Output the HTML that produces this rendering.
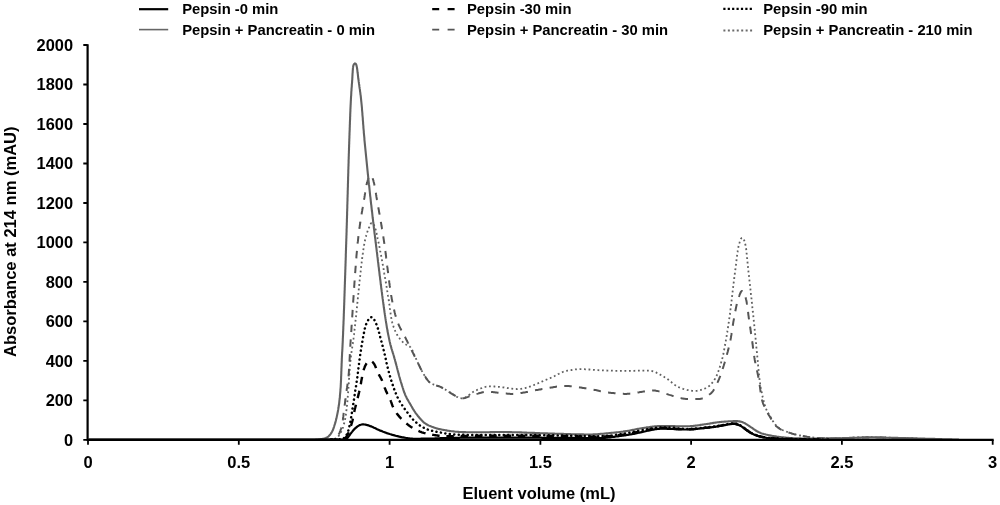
<!DOCTYPE html>
<html><head><meta charset="utf-8"><title>Chromatogram</title>
<style>html,body{margin:0;padding:0;background:#fff}body{width:1000px;height:505px;overflow:hidden}</style></head>
<body>
<svg width="1000" height="505" viewBox="0 0 1000 505" style="display:block;font-family:'Liberation Sans',Arial,sans-serif;font-weight:bold">
<rect width="1000" height="505" fill="#fff"/>
<path d="M325.6,439.7 L326.3,439.7 L327.1,439.6 L328.0,439.6 L329.0,439.5 L330.0,439.5 L331.0,439.4 L332.0,439.2 L333.0,439.1 L333.9,438.9 L334.9,438.7 L335.8,438.4 L336.7,438.0 L337.4,437.4 L338.1,436.7 L338.7,435.9 L339.3,435.1 L339.8,434.2 L340.3,433.3 L340.7,432.5 L341.2,431.6 L341.6,430.7 L342.0,429.8 L342.4,428.8 L342.8,427.9 L343.1,427.0 L343.4,426.0 L343.7,425.0 L344.0,424.1 L344.2,423.1 L344.5,422.2 L344.7,421.2 L344.9,420.2 L345.1,419.2 L345.3,418.2 L345.5,417.3 L345.6,416.3 L345.8,415.3 L345.9,414.3 L346.1,413.3 L346.2,412.3 L346.3,411.3 L346.4,410.3 L346.5,409.3 L346.6,408.3 L346.7,407.3 L346.9,406.3 L347.0,405.4 L347.1,404.4 L347.2,403.4 L347.3,402.4 L347.4,401.4 L347.5,400.4 L347.6,399.4 L347.6,398.4 L347.7,397.4 L347.8,396.4 L347.9,395.4 L348.0,394.4 L348.0,393.4 L348.1,392.4 L348.2,391.4 L348.3,390.4 L348.3,389.4 L348.4,388.4 L348.5,387.4 L348.5,386.4 L348.6,385.4 L348.7,384.4 L348.8,383.4 L348.8,382.4 L348.9,381.4 L349.0,380.4 L349.0,379.4 L349.1,378.4 L349.2,377.4 L349.3,376.4 L349.3,375.4 L349.4,374.4 L349.5,373.5 L349.5,372.5 L349.6,371.5 L349.7,370.5 L349.7,369.5 L349.8,368.5 L349.9,367.5 L350.0,366.5 L350.0,365.5 L350.1,364.5 L350.2,363.5 L350.3,362.5 L350.4,361.5 L350.5,360.5 L350.6,359.5 L350.7,358.5 L350.8,357.5 L350.9,356.5 L351.0,355.5 L351.1,354.5 L351.3,353.5 L351.4,352.5 L351.6,351.6 L351.7,350.6 L351.9,349.6 L352.0,348.6 L352.2,347.6 L352.3,346.6 L352.5,345.6 L352.6,344.6 L352.8,343.7 L352.9,342.7 L353.1,341.7 L353.2,340.7 L353.3,339.7 L353.5,338.7 L353.6,337.7 L353.7,336.7 L353.8,335.7 L354.0,334.7 L354.1,333.7 L354.2,332.7 L354.3,331.8 L354.4,330.8 L354.5,329.8 L354.7,328.8 L354.8,327.8 L354.9,326.8 L355.0,325.8 L355.1,324.8 L355.2,323.8 L355.3,322.8 L355.4,321.8 L355.5,320.8 L355.6,319.8 L355.8,318.8 L355.9,317.8 L356.0,316.8 L356.1,315.8 L356.2,314.9 L356.3,313.9 L356.4,312.9 L356.5,311.9 L356.6,310.9 L356.7,309.9 L356.8,308.9 L356.9,307.9 L357.0,306.9 L357.1,305.9 L357.2,304.9 L357.3,303.9 L357.4,302.9 L357.5,301.9 L357.6,300.9 L357.7,299.9 L357.8,298.9 L357.9,297.9 L358.0,296.9 L358.1,296.0 L358.2,295.0 L358.3,294.0 L358.4,293.0 L358.5,292.0 L358.6,291.0 L358.7,290.0 L358.8,289.0 L358.9,288.0 L359.0,287.0 L359.1,286.0 L359.2,285.0 L359.3,284.0 L359.4,283.0 L359.5,282.0 L359.6,281.0 L359.7,280.0 L359.8,279.0 L359.9,278.0 L360.0,277.1 L360.2,276.1 L360.3,275.1 L360.4,274.1 L360.5,273.1 L360.6,272.1 L360.7,271.1 L360.8,270.1 L360.9,269.1 L361.0,268.1 L361.1,267.1 L361.2,266.1 L361.4,265.1 L361.5,264.1 L361.6,263.1 L361.7,262.1 L361.8,261.2 L362.0,260.2 L362.1,259.2 L362.2,258.2 L362.3,257.2 L362.5,256.2 L362.6,255.2 L362.7,254.2 L362.9,253.2 L363.0,252.2 L363.1,251.2 L363.3,250.2 L363.4,249.3 L363.6,248.3 L363.7,247.3 L363.9,246.3 L364.1,245.3 L364.2,244.3 L364.4,243.3 L364.6,242.4 L364.8,241.4 L365.0,240.4 L365.2,239.4 L365.5,238.5 L365.7,237.5 L366.0,236.5 L366.2,235.6 L366.5,234.6 L366.8,233.6 L367.1,232.7 L367.4,231.7 L367.7,230.8 L368.1,229.8 L368.4,228.9 L368.8,228.0 L369.2,227.1 L369.6,226.1 L369.9,225.2 L370.4,224.3 L370.8,223.6 L371.4,223.0 L372.0,222.9 L372.6,223.1 L373.2,223.7 L373.7,224.4 L374.1,225.3 L374.5,226.2 L374.8,227.2 L375.2,228.1 L375.5,229.1 L375.8,230.0 L376.0,231.0 L376.3,232.0 L376.5,232.9 L376.7,233.9 L376.9,234.9 L377.1,235.9 L377.3,236.8 L377.5,237.8 L377.7,238.8 L378.0,239.8 L378.2,240.8 L378.4,241.7 L378.6,242.7 L378.8,243.7 L379.0,244.7 L379.2,245.6 L379.4,246.6 L379.6,247.6 L379.8,248.6 L380.0,249.6 L380.1,250.6 L380.3,251.5 L380.5,252.5 L380.7,253.5 L380.9,254.5 L381.1,255.5 L381.3,256.4 L381.5,257.4 L381.6,258.4 L381.8,259.4 L382.0,260.4 L382.2,261.4 L382.3,262.3 L382.5,263.3 L382.7,264.3 L382.9,265.3 L383.0,266.3 L383.2,267.3 L383.4,268.3 L383.6,269.2 L383.7,270.2 L383.9,271.2 L384.1,272.2 L384.2,273.2 L384.4,274.2 L384.6,275.2 L384.8,276.1 L384.9,277.1 L385.1,278.1 L385.3,279.1 L385.4,280.1 L385.6,281.1 L385.8,282.1 L385.9,283.0 L386.1,284.0 L386.2,285.0 L386.4,286.0 L386.6,287.0 L386.7,288.0 L386.9,289.0 L387.1,289.9 L387.2,290.9 L387.4,291.9 L387.5,292.9 L387.7,293.9 L387.9,294.9 L388.0,295.9 L388.2,296.9 L388.3,297.8 L388.5,298.8 L388.7,299.8 L388.8,300.8 L389.0,301.8 L389.1,302.8 L389.3,303.8 L389.4,304.8 L389.5,305.8 L389.7,306.7 L389.8,307.7 L389.9,308.7 L390.1,309.7 L390.2,310.7 L390.3,311.7 L390.5,312.7 L390.6,313.7 L390.7,314.7 L390.9,315.7 L391.0,316.7 L391.2,317.6 L391.4,318.6 L391.5,319.6 L391.7,320.6 L392.0,321.6 L392.2,322.5 L392.5,323.5 L392.8,324.4 L393.1,325.4 L393.4,326.3 L393.7,327.3 L394.1,328.2 L394.4,329.2 L394.8,330.1 L395.2,331.0 L395.6,331.9 L396.1,332.8 L396.5,333.7 L397.0,334.6 L397.5,335.4 L398.0,336.3 L398.6,337.1 L399.2,337.9 L399.8,338.7 L400.4,339.5 L401.1,340.3 L401.7,341.0 L402.4,341.7 L403.1,342.4 L403.9,343.1 L404.7,343.7 L405.5,344.2 L406.4,344.7 L407.3,345.1 L408.1,345.6 L409.0,346.0 L409.8,346.6 L410.5,347.3 L411.1,348.1 L411.6,348.9 L412.1,349.8 L412.5,350.7 L412.9,351.6 L413.3,352.5 L413.7,353.4 L414.1,354.3 L414.5,355.3 L414.9,356.2 L415.3,357.1 L415.7,358.0 L416.1,358.9 L416.5,359.9 L416.9,360.8 L417.3,361.7 L417.8,362.6 L418.2,363.5 L418.6,364.4 L419.1,365.3 L419.5,366.2 L419.9,367.1 L420.4,368.0 L420.8,368.9 L421.3,369.8 L421.7,370.6 L422.2,371.5 L422.7,372.4 L423.2,373.3 L423.7,374.1 L424.2,375.0 L424.7,375.8 L425.3,376.7 L425.8,377.5 L426.3,378.4 L426.9,379.2 L427.5,380.0 L428.1,380.8 L428.8,381.5 L429.5,382.2 L430.3,382.8 L431.1,383.3 L432.0,383.8 L432.9,384.2 L433.8,384.6 L434.8,384.9 L435.7,385.2 L436.7,385.5 L437.6,385.8 L438.6,386.2 L439.5,386.5 L440.4,386.9 L441.3,387.3 L442.2,387.8 L443.1,388.3 L444.0,388.8 L444.8,389.3 L445.7,389.8 L446.5,390.4 L447.3,390.9 L448.2,391.4 L449.0,392.0 L449.9,392.5 L450.7,393.0 L451.6,393.5 L452.4,394.0 L453.3,394.6 L454.2,395.1 L455.0,395.6 L455.8,396.1 L456.7,396.7 L457.6,397.1 L458.5,397.6 L459.4,397.9 L460.3,398.2 L461.3,398.3 L462.3,398.3 L463.2,398.1 L464.2,397.8 L465.1,397.5 L466.0,397.0 L466.8,396.5 L467.7,395.9 L468.5,395.4 L469.3,394.8 L470.1,394.2 L470.9,393.6 L471.7,393.0 L472.5,392.4 L473.3,391.8 L474.2,391.3 L475.1,390.9 L476.0,390.4 L476.9,390.0 L477.8,389.6 L478.7,389.3 L479.7,388.9 L480.6,388.5 L481.5,388.2 L482.5,387.8 L483.4,387.5 L484.4,387.2 L485.3,387.0 L486.3,386.7 L487.3,386.6 L488.3,386.4 L489.3,386.4 L490.3,386.3 L491.3,386.4 L492.3,386.4 L493.3,386.4 L494.3,386.5 L495.2,386.6 L496.2,386.7 L497.2,386.8 L498.2,386.8 L499.2,386.9 L500.2,387.0 L501.2,387.1 L502.2,387.3 L503.2,387.4 L504.2,387.5 L505.2,387.7 L506.2,387.8 L507.2,388.0 L508.1,388.1 L509.1,388.3 L510.1,388.4 L511.1,388.6 L512.1,388.7 L513.1,388.8 L514.1,388.9 L515.1,389.0 L516.1,389.0 L517.1,389.1 L518.1,389.0 L519.1,389.0 L520.1,388.9 L521.1,388.8 L522.1,388.7 L523.0,388.5 L524.0,388.3 L525.0,388.1 L526.0,387.8 L526.9,387.6 L527.9,387.3 L528.8,387.0 L529.8,386.6 L530.7,386.3 L531.7,386.0 L532.6,385.6 L533.5,385.2 L534.4,384.8 L535.4,384.5 L536.3,384.1 L537.2,383.7 L538.1,383.3 L539.0,382.9 L540.0,382.5 L540.9,382.0 L541.8,381.6 L542.7,381.2 L543.6,380.8 L544.5,380.4 L545.4,380.0 L546.4,379.7 L547.3,379.3 L548.2,378.9 L549.1,378.5 L550.1,378.1 L551.0,377.7 L551.9,377.3 L552.8,376.9 L553.7,376.4 L554.6,376.0 L555.5,375.5 L556.4,375.1 L557.2,374.6 L558.1,374.1 L559.0,373.7 L559.9,373.2 L560.8,372.8 L561.7,372.4 L562.7,372.0 L563.6,371.7 L564.5,371.4 L565.5,371.1 L566.5,370.9 L567.4,370.6 L568.4,370.5 L569.4,370.3 L570.4,370.1 L571.4,370.0 L572.4,369.8 L573.4,369.7 L574.4,369.6 L575.3,369.4 L576.3,369.3 L577.3,369.3 L578.3,369.2 L579.3,369.2 L580.3,369.1 L581.3,369.1 L582.3,369.1 L583.3,369.2 L584.3,369.2 L585.3,369.3 L586.3,369.3 L587.3,369.4 L588.3,369.5 L589.3,369.5 L590.3,369.6 L591.3,369.7 L592.3,369.8 L593.3,369.9 L594.3,369.9 L595.3,370.0 L596.3,370.1 L597.3,370.2 L598.3,370.2 L599.3,370.3 L600.3,370.3 L601.3,370.3 L602.3,370.4 L603.3,370.4 L604.3,370.5 L605.3,370.5 L606.3,370.5 L607.3,370.6 L608.3,370.6 L609.3,370.6 L610.3,370.6 L611.3,370.7 L612.3,370.7 L613.3,370.7 L614.3,370.7 L615.3,370.8 L616.3,370.8 L617.3,370.8 L618.3,370.8 L619.3,370.8 L620.3,370.8 L621.3,370.8 L622.3,370.8 L623.3,370.8 L624.3,370.8 L625.3,370.8 L626.3,370.8 L627.3,370.8 L628.3,370.8 L629.3,370.8 L630.3,370.8 L631.3,370.8 L632.3,370.8 L633.3,370.8 L634.3,370.8 L635.3,370.7 L636.3,370.7 L637.3,370.7 L638.3,370.7 L639.3,370.7 L640.3,370.7 L641.3,370.7 L642.3,370.7 L643.3,370.7 L644.3,370.7 L645.3,370.7 L646.3,370.7 L647.3,370.7 L648.3,370.7 L649.3,370.7 L650.3,370.8 L651.3,370.9 L652.2,371.1 L653.2,371.4 L654.1,371.7 L655.1,372.0 L656.0,372.4 L656.9,372.9 L657.8,373.3 L658.7,373.8 L659.5,374.3 L660.4,374.8 L661.3,375.3 L662.1,375.8 L663.0,376.3 L663.9,376.8 L664.7,377.3 L665.6,377.8 L666.4,378.3 L667.3,378.9 L668.1,379.5 L668.9,380.1 L669.6,380.7 L670.4,381.4 L671.2,382.0 L671.9,382.6 L672.7,383.3 L673.5,383.9 L674.3,384.5 L675.1,385.1 L675.9,385.7 L676.7,386.2 L677.6,386.7 L678.5,387.1 L679.4,387.5 L680.4,387.9 L681.3,388.2 L682.3,388.5 L683.2,388.8 L684.2,389.1 L685.1,389.4 L686.1,389.6 L687.1,389.9 L688.0,390.1 L689.0,390.3 L690.0,390.5 L691.0,390.7 L692.0,390.8 L693.0,390.9 L694.0,390.9 L695.0,390.9 L696.0,390.9 L696.9,390.8 L697.9,390.7 L698.9,390.5 L699.9,390.2 L700.8,390.0 L701.8,389.7 L702.7,389.3 L703.7,389.0 L704.6,388.6 L705.5,388.2 L706.4,387.7 L707.3,387.3 L708.1,386.7 L708.9,386.2 L709.7,385.5 L710.4,384.8 L711.1,384.1 L711.7,383.4 L712.4,382.6 L713.0,381.8 L713.6,381.0 L714.1,380.2 L714.7,379.3 L715.2,378.5 L715.7,377.6 L716.1,376.7 L716.6,375.8 L717.0,374.9 L717.4,374.0 L717.7,373.0 L718.1,372.1 L718.4,371.2 L718.8,370.2 L719.1,369.3 L719.4,368.3 L719.7,367.4 L720.0,366.4 L720.3,365.5 L720.6,364.5 L720.9,363.6 L721.1,362.6 L721.4,361.6 L721.7,360.7 L722.0,359.7 L722.2,358.7 L722.5,357.8 L722.7,356.8 L722.9,355.8 L723.1,354.8 L723.4,353.9 L723.6,352.9 L723.8,351.9 L723.9,350.9 L724.1,350.0 L724.3,349.0 L724.5,348.0 L724.7,347.0 L724.9,346.0 L725.1,345.0 L725.2,344.1 L725.4,343.1 L725.6,342.1 L725.8,341.1 L725.9,340.1 L726.1,339.1 L726.3,338.1 L726.5,337.2 L726.6,336.2 L726.8,335.2 L727.0,334.2 L727.1,333.2 L727.3,332.2 L727.4,331.2 L727.6,330.2 L727.7,329.3 L727.9,328.3 L728.0,327.3 L728.2,326.3 L728.3,325.3 L728.5,324.3 L728.6,323.3 L728.8,322.3 L728.9,321.3 L729.0,320.4 L729.2,319.4 L729.3,318.4 L729.5,317.4 L729.6,316.4 L729.7,315.4 L729.9,314.4 L730.0,313.4 L730.1,312.4 L730.2,311.4 L730.4,310.4 L730.5,309.5 L730.6,308.5 L730.7,307.5 L730.9,306.5 L731.0,305.5 L731.1,304.5 L731.2,303.5 L731.4,302.5 L731.5,301.5 L731.6,300.5 L731.7,299.5 L731.8,298.5 L731.9,297.5 L732.1,296.5 L732.2,295.6 L732.3,294.6 L732.4,293.6 L732.5,292.6 L732.6,291.6 L732.8,290.6 L732.9,289.6 L733.0,288.6 L733.1,287.6 L733.2,286.6 L733.4,285.6 L733.5,284.6 L733.6,283.6 L733.7,282.6 L733.8,281.7 L734.0,280.7 L734.1,279.7 L734.2,278.7 L734.3,277.7 L734.4,276.7 L734.6,275.7 L734.7,274.7 L734.8,273.7 L734.9,272.7 L735.1,271.7 L735.2,270.7 L735.3,269.7 L735.5,268.8 L735.6,267.8 L735.7,266.8 L735.8,265.8 L736.0,264.8 L736.1,263.8 L736.2,262.8 L736.3,261.8 L736.4,260.8 L736.6,259.8 L736.7,258.8 L736.8,257.8 L736.9,256.8 L737.0,255.9 L737.2,254.9 L737.3,253.9 L737.4,252.9 L737.6,251.9 L737.7,250.9 L737.9,249.9 L738.0,248.9 L738.2,247.9 L738.4,247.0 L738.6,246.0 L738.8,245.0 L739.1,244.0 L739.4,243.1 L739.7,242.1 L740.0,241.2 L740.3,240.2 L740.7,239.4 L741.1,238.6 L741.7,238.0 L742.3,237.9 L742.8,238.1 L743.4,238.7 L743.8,239.5 L744.2,240.4 L744.5,241.4 L744.8,242.3 L745.0,243.3 L745.3,244.3 L745.5,245.2 L745.7,246.2 L745.9,247.2 L746.0,248.2 L746.2,249.2 L746.3,250.2 L746.4,251.2 L746.5,252.2 L746.6,253.1 L746.7,254.1 L746.8,255.1 L746.9,256.1 L747.0,257.1 L747.1,258.1 L747.2,259.1 L747.3,260.1 L747.4,261.1 L747.5,262.1 L747.6,263.1 L747.7,264.1 L747.8,265.1 L747.9,266.1 L748.0,267.1 L748.1,268.1 L748.2,269.1 L748.3,270.1 L748.4,271.1 L748.5,272.1 L748.6,273.0 L748.7,274.0 L748.9,275.0 L749.0,276.0 L749.1,277.0 L749.2,278.0 L749.3,279.0 L749.4,280.0 L749.5,281.0 L749.6,282.0 L749.7,283.0 L749.8,284.0 L750.0,285.0 L750.1,286.0 L750.2,287.0 L750.3,288.0 L750.4,288.9 L750.5,289.9 L750.6,290.9 L750.7,291.9 L750.8,292.9 L750.9,293.9 L751.0,294.9 L751.1,295.9 L751.3,296.9 L751.4,297.9 L751.5,298.9 L751.6,299.9 L751.7,300.9 L751.8,301.9 L751.9,302.9 L752.0,303.9 L752.1,304.9 L752.2,305.9 L752.3,306.8 L752.4,307.8 L752.5,308.8 L752.6,309.8 L752.7,310.8 L752.8,311.8 L753.0,312.8 L753.1,313.8 L753.2,314.8 L753.3,315.8 L753.4,316.8 L753.5,317.8 L753.6,318.8 L753.7,319.8 L753.8,320.8 L753.9,321.8 L754.0,322.8 L754.1,323.8 L754.2,324.7 L754.3,325.7 L754.4,326.7 L754.5,327.7 L754.6,328.7 L754.7,329.7 L754.8,330.7 L754.9,331.7 L755.0,332.7 L755.1,333.7 L755.2,334.7 L755.3,335.7 L755.4,336.7 L755.5,337.7 L755.6,338.7 L755.7,339.7 L755.8,340.7 L755.9,341.7 L756.0,342.7 L756.1,343.7 L756.2,344.7 L756.2,345.6 L756.3,346.6 L756.4,347.6 L756.5,348.6 L756.6,349.6 L756.7,350.6 L756.8,351.6 L756.9,352.6 L757.0,353.6 L757.1,354.6 L757.2,355.6 L757.3,356.6 L757.4,357.6 L757.5,358.6 L757.6,359.6 L757.7,360.6 L757.8,361.6 L757.9,362.6 L758.0,363.6 L758.1,364.6 L758.1,365.6 L758.2,366.6 L758.3,367.5 L758.4,368.5 L758.5,369.5 L758.6,370.5 L758.7,371.5 L758.8,372.5 L758.9,373.5 L759.0,374.5 L759.1,375.5 L759.2,376.5 L759.3,377.5 L759.4,378.5 L759.5,379.5 L759.7,380.5 L759.8,381.5 L759.9,382.5 L760.1,383.4 L760.2,384.4 L760.4,385.4 L760.6,386.4 L760.7,387.4 L760.9,388.4 L761.1,389.4 L761.3,390.3 L761.5,391.3 L761.7,392.3 L761.9,393.3 L762.1,394.3 L762.3,395.2 L762.5,396.2 L762.7,397.2 L763.0,398.2 L763.2,399.1 L763.4,400.1 L763.7,401.1 L763.9,402.0 L764.2,403.0 L764.5,404.0 L764.8,404.9 L765.0,405.9 L765.4,406.8 L765.7,407.8 L766.0,408.7 L766.4,409.6 L766.8,410.6 L767.2,411.5 L767.7,412.3 L768.2,413.2 L768.7,414.1 L769.2,414.9 L769.7,415.8 L770.3,416.6 L770.8,417.5 L771.3,418.4 L771.8,419.2 L772.3,420.1 L772.8,421.0 L773.3,421.8 L773.8,422.7 L774.4,423.5 L775.0,424.3 L775.6,425.0 L776.3,425.7 L777.0,426.4 L777.8,427.1 L778.6,427.7 L779.4,428.3 L780.3,428.8 L781.1,429.3 L782.0,429.7 L782.9,430.2 L783.8,430.6 L784.7,431.0 L785.7,431.3 L786.6,431.7 L787.5,432.0 L788.5,432.3 L789.4,432.7 L790.4,433.0 L791.4,433.3 L792.3,433.5 L793.3,433.8 L794.2,434.1 L795.2,434.4 L796.2,434.6 L797.1,434.8 L798.1,435.1 L799.1,435.3 L800.1,435.5 L801.0,435.7 L802.0,435.9 L803.0,436.1 L804.0,436.3 L805.0,436.4 L806.0,436.6 L806.9,436.8 L807.9,436.9 L808.9,437.1 L809.9,437.2 L810.9,437.3 L811.9,437.4 L812.9,437.5 L813.9,437.6 L814.9,437.7 L815.9,437.8 L816.9,437.9 L817.9,437.9 L818.9,438.0 L819.9,438.1 L820.9,438.2 L821.9,438.2 L822.9,438.3 L823.9,438.3 L824.9,438.4 L825.9,438.4 L826.9,438.4 L827.9,438.5 L828.9,438.5 L829.9,438.5 L830.9,438.5 L831.9,438.5 L832.9,438.5 L833.9,438.5 L834.9,438.4 L835.9,438.4 L836.9,438.4 L837.9,438.4 L838.9,438.3 L839.9,438.3 L840.9,438.3 L841.9,438.2 L842.9,438.2 L843.9,438.1 L844.9,438.1 L845.9,438.0 L846.9,438.0 L847.9,438.0 L848.8,437.9 L849.8,437.9 L850.8,437.8 L851.8,437.8 L852.8,437.7 L853.8,437.7 L854.8,437.6 L855.8,437.6 L856.8,437.5 L857.8,437.5 L858.8,437.4 L859.8,437.4 L860.8,437.4 L861.8,437.3 L862.8,437.3 L863.8,437.3 L864.8,437.3 L865.8,437.2 L866.8,437.2 L867.8,437.2 L868.8,437.2 L869.8,437.2 L870.8,437.2 L871.8,437.2 L872.8,437.2 L873.8,437.2 L874.8,437.2 L875.8,437.3 L876.8,437.3 L877.8,437.3 L878.8,437.3 L879.8,437.3 L880.8,437.4 L881.8,437.4 L882.8,437.4 L883.8,437.4 L884.8,437.5 L885.8,437.5 L886.8,437.5 L887.8,437.6 L888.8,437.6 L889.8,437.6 L890.8,437.7 L891.8,437.7 L892.8,437.8 L893.8,437.8 L894.8,437.8 L895.8,437.9 L896.8,437.9 L897.8,437.9 L898.8,438.0 L899.8,438.0 L900.8,438.0 L901.8,438.1 L902.8,438.1 L903.8,438.1 L904.8,438.2 L905.8,438.2 L906.8,438.2 L907.8,438.3 L908.8,438.3 L909.8,438.3 L910.8,438.4 L911.8,438.4 L912.8,438.5 L913.8,438.5 L914.8,438.5 L915.8,438.6 L916.8,438.6 L917.8,438.7 L918.8,438.7 L919.8,438.7 L920.8,438.8 L921.8,438.8 L922.8,438.9 L923.8,438.9 L924.8,439.0 L925.8,439.0 L926.8,439.1 L927.8,439.1 L928.8,439.1 L929.8,439.2 L930.8,439.2 L931.8,439.3 L932.8,439.3 L933.8,439.4 L934.8,439.4 L935.8,439.5 L936.8,439.5 L937.7,439.6 L938.5,439.6 L939.2,439.7" fill="none" stroke="#606060" stroke-width="1.8" stroke-dasharray="1.8 2.7"/>
<path d="M325.6,439.7 L326.3,439.7 L327.1,439.6 L328.0,439.6 L329.0,439.5 L330.0,439.4 L331.0,439.3 L332.0,439.1 L332.9,438.9 L333.9,438.6 L334.7,438.2 L335.6,437.6 L336.4,437.0 L337.1,436.4 L337.8,435.6 L338.4,434.9 L338.9,434.0 L339.4,433.2 L339.8,432.2 L340.1,431.3 L340.5,430.4 L340.8,429.4 L341.1,428.5 L341.3,427.5 L341.6,426.5 L341.8,425.6 L342.1,424.6 L342.3,423.6 L342.4,422.6 L342.6,421.6 L342.7,420.7 L342.9,419.7 L343.0,418.7 L343.1,417.7 L343.3,416.7 L343.4,415.7 L343.5,414.7 L343.6,413.7 L343.7,412.7 L343.9,411.7 L344.0,410.7 L344.1,409.7 L344.2,408.7 L344.3,407.8 L344.5,406.8 L344.6,405.8 L344.7,404.8 L344.9,403.8 L345.0,402.8 L345.1,401.8 L345.2,400.8 L345.4,399.8 L345.5,398.8 L345.6,397.8 L345.8,396.8 L345.9,395.9 L346.0,394.9 L346.2,393.9 L346.3,392.9 L346.4,391.9 L346.6,390.9 L346.7,389.9 L346.8,388.9 L347.0,387.9 L347.1,386.9 L347.3,386.0 L347.4,385.0 L347.6,384.0 L347.8,383.0 L347.9,382.0 L348.1,381.0 L348.2,380.0 L348.3,379.0 L348.4,378.0 L348.5,377.0 L348.6,376.0 L348.6,375.0 L348.7,374.0 L348.8,373.0 L348.9,372.1 L348.9,371.1 L349.0,370.1 L349.0,369.1 L349.1,368.1 L349.2,367.1 L349.2,366.1 L349.3,365.1 L349.3,364.1 L349.4,363.1 L349.4,362.1 L349.5,361.1 L349.6,360.1 L349.6,359.1 L349.7,358.1 L349.7,357.1 L349.8,356.1 L349.8,355.1 L349.9,354.1 L349.9,353.1 L350.0,352.1 L350.0,351.1 L350.1,350.1 L350.2,349.1 L350.2,348.1 L350.3,347.1 L350.3,346.1 L350.4,345.1 L350.4,344.1 L350.5,343.1 L350.6,342.1 L350.6,341.1 L350.7,340.1 L350.8,339.1 L350.8,338.1 L350.9,337.1 L351.0,336.1 L351.0,335.1 L351.1,334.1 L351.2,333.1 L351.2,332.1 L351.3,331.1 L351.4,330.1 L351.4,329.1 L351.5,328.1 L351.5,327.1 L351.6,326.1 L351.7,325.1 L351.7,324.1 L351.8,323.1 L351.9,322.1 L351.9,321.1 L352.0,320.1 L352.1,319.1 L352.1,318.2 L352.2,317.2 L352.3,316.2 L352.3,315.2 L352.4,314.2 L352.5,313.2 L352.5,312.2 L352.6,311.2 L352.6,310.2 L352.7,309.2 L352.8,308.2 L352.8,307.2 L352.9,306.2 L353.0,305.2 L353.0,304.2 L353.1,303.2 L353.2,302.2 L353.2,301.2 L353.3,300.2 L353.4,299.2 L353.4,298.2 L353.5,297.2 L353.6,296.2 L353.6,295.2 L353.7,294.2 L353.8,293.2 L353.8,292.2 L353.9,291.2 L354.0,290.2 L354.0,289.2 L354.1,288.2 L354.2,287.2 L354.2,286.2 L354.3,285.2 L354.4,284.2 L354.4,283.2 L354.5,282.2 L354.6,281.2 L354.6,280.2 L354.7,279.2 L354.8,278.2 L354.9,277.2 L354.9,276.2 L355.0,275.2 L355.1,274.2 L355.1,273.3 L355.2,272.3 L355.3,271.3 L355.4,270.3 L355.4,269.3 L355.5,268.3 L355.6,267.3 L355.7,266.3 L355.7,265.3 L355.8,264.3 L355.9,263.3 L356.0,262.3 L356.0,261.3 L356.1,260.3 L356.2,259.3 L356.3,258.3 L356.4,257.3 L356.4,256.3 L356.5,255.3 L356.6,254.3 L356.7,253.3 L356.8,252.3 L356.9,251.3 L357.0,250.3 L357.1,249.3 L357.2,248.3 L357.2,247.3 L357.3,246.3 L357.4,245.3 L357.5,244.4 L357.6,243.4 L357.7,242.4 L357.9,241.4 L358.0,240.4 L358.1,239.4 L358.2,238.4 L358.3,237.4 L358.4,236.4 L358.5,235.4 L358.7,234.4 L358.8,233.4 L358.9,232.4 L359.0,231.4 L359.2,230.4 L359.3,229.5 L359.4,228.5 L359.6,227.5 L359.7,226.5 L359.8,225.5 L360.0,224.5 L360.1,223.5 L360.3,222.5 L360.4,221.5 L360.6,220.5 L360.7,219.6 L360.9,218.6 L361.0,217.6 L361.2,216.6 L361.4,215.6 L361.5,214.6 L361.7,213.6 L361.8,212.6 L362.0,211.7 L362.2,210.7 L362.3,209.7 L362.5,208.7 L362.7,207.7 L362.8,206.7 L363.0,205.7 L363.2,204.8 L363.4,203.8 L363.5,202.8 L363.7,201.8 L363.9,200.8 L364.0,199.8 L364.2,198.8 L364.4,197.9 L364.5,196.9 L364.7,195.9 L364.8,194.9 L365.0,193.9 L365.1,192.9 L365.3,191.9 L365.5,191.0 L365.6,190.0 L365.8,189.0 L366.0,188.0 L366.2,187.0 L366.3,186.0 L366.5,185.0 L366.7,184.1 L367.0,183.1 L367.2,182.1 L367.5,181.2 L367.8,180.2 L368.1,179.3 L368.4,178.3 L368.7,177.4 L369.1,176.5 L369.6,175.8 L370.2,175.4 L370.7,175.3 L371.3,175.7 L371.8,176.4 L372.2,177.2 L372.6,178.2 L372.9,179.1 L373.2,180.0 L373.5,181.0 L373.7,182.0 L374.0,182.9 L374.2,183.9 L374.4,184.9 L374.6,185.9 L374.8,186.9 L375.0,187.8 L375.1,188.8 L375.3,189.8 L375.5,190.8 L375.6,191.8 L375.8,192.8 L376.0,193.8 L376.1,194.7 L376.3,195.7 L376.4,196.7 L376.6,197.7 L376.8,198.7 L376.9,199.7 L377.1,200.7 L377.3,201.6 L377.5,202.6 L377.6,203.6 L377.8,204.6 L378.0,205.6 L378.2,206.6 L378.3,207.5 L378.5,208.5 L378.7,209.5 L378.9,210.5 L379.0,211.5 L379.2,212.5 L379.4,213.5 L379.6,214.4 L379.7,215.4 L379.9,216.4 L380.1,217.4 L380.2,218.4 L380.4,219.4 L380.6,220.4 L380.8,221.3 L380.9,222.3 L381.1,223.3 L381.3,224.3 L381.4,225.3 L381.6,226.3 L381.8,227.3 L381.9,228.2 L382.1,229.2 L382.2,230.2 L382.4,231.2 L382.6,232.2 L382.7,233.2 L382.9,234.2 L383.0,235.2 L383.2,236.1 L383.4,237.1 L383.5,238.1 L383.7,239.1 L383.8,240.1 L384.0,241.1 L384.1,242.1 L384.3,243.1 L384.4,244.0 L384.5,245.0 L384.7,246.0 L384.8,247.0 L384.9,248.0 L385.1,249.0 L385.2,250.0 L385.3,251.0 L385.5,252.0 L385.6,253.0 L385.7,254.0 L385.9,255.0 L386.0,255.9 L386.1,256.9 L386.2,257.9 L386.4,258.9 L386.5,259.9 L386.6,260.9 L386.7,261.9 L386.8,262.9 L387.0,263.9 L387.1,264.9 L387.2,265.9 L387.3,266.9 L387.5,267.9 L387.6,268.8 L387.7,269.8 L387.8,270.8 L387.9,271.8 L388.1,272.8 L388.2,273.8 L388.3,274.8 L388.4,275.8 L388.6,276.8 L388.7,277.8 L388.8,278.8 L389.0,279.8 L389.1,280.8 L389.2,281.7 L389.3,282.7 L389.5,283.7 L389.6,284.7 L389.7,285.7 L389.9,286.7 L390.0,287.7 L390.2,288.7 L390.3,289.7 L390.4,290.7 L390.6,291.6 L390.7,292.6 L390.9,293.6 L391.1,294.6 L391.2,295.6 L391.4,296.6 L391.6,297.6 L391.7,298.6 L391.9,299.5 L392.1,300.5 L392.3,301.5 L392.5,302.5 L392.7,303.5 L392.9,304.4 L393.1,305.4 L393.3,306.4 L393.5,307.4 L393.7,308.3 L394.0,309.3 L394.2,310.3 L394.4,311.3 L394.6,312.2 L394.9,313.2 L395.1,314.2 L395.4,315.2 L395.6,316.1 L395.9,317.1 L396.2,318.0 L396.5,319.0 L396.8,320.0 L397.1,320.9 L397.4,321.8 L397.8,322.8 L398.2,323.7 L398.6,324.6 L399.0,325.5 L399.4,326.4 L399.9,327.3 L400.3,328.2 L400.8,329.1 L401.3,330.0 L401.8,330.8 L402.3,331.7 L402.8,332.6 L403.2,333.5 L403.7,334.3 L404.2,335.2 L404.6,336.1 L405.1,337.0 L405.5,337.9 L405.9,338.8 L406.4,339.7 L406.8,340.6 L407.3,341.5 L407.7,342.4 L408.2,343.3 L408.6,344.2 L409.0,345.1 L409.5,346.0 L409.9,346.9 L410.4,347.8 L410.8,348.7 L411.3,349.6 L411.7,350.5 L412.2,351.3 L412.6,352.2 L413.1,353.1 L413.5,354.0 L414.0,354.9 L414.4,355.8 L414.8,356.7 L415.3,357.6 L415.7,358.5 L416.2,359.4 L416.6,360.3 L417.1,361.2 L417.5,362.1 L418.0,363.0 L418.4,363.9 L418.8,364.8 L419.3,365.7 L419.7,366.6 L420.1,367.5 L420.6,368.4 L421.0,369.3 L421.5,370.2 L421.9,371.1 L422.4,371.9 L422.9,372.8 L423.4,373.7 L423.9,374.5 L424.5,375.4 L425.0,376.2 L425.5,377.1 L426.0,377.9 L426.6,378.8 L427.2,379.6 L427.8,380.4 L428.4,381.1 L429.1,381.8 L429.9,382.5 L430.7,383.0 L431.5,383.5 L432.4,384.0 L433.3,384.4 L434.3,384.7 L435.2,385.0 L436.2,385.4 L437.1,385.7 L438.1,386.0 L439.0,386.3 L439.9,386.7 L440.8,387.1 L441.7,387.5 L442.6,388.0 L443.5,388.5 L444.4,389.0 L445.2,389.5 L446.0,390.1 L446.9,390.6 L447.7,391.1 L448.6,391.7 L449.4,392.2 L450.3,392.7 L451.1,393.3 L452.0,393.8 L452.8,394.3 L453.7,394.8 L454.5,395.3 L455.4,395.9 L456.2,396.4 L457.1,396.9 L458.0,397.3 L458.9,397.7 L459.8,398.0 L460.8,398.3 L461.8,398.3 L462.8,398.3 L463.7,398.2 L464.7,398.0 L465.7,397.7 L466.6,397.4 L467.6,397.1 L468.5,396.7 L469.4,396.3 L470.3,396.0 L471.3,395.6 L472.2,395.3 L473.2,395.0 L474.1,394.7 L475.1,394.4 L476.1,394.1 L477.0,393.9 L478.0,393.6 L478.9,393.3 L479.9,393.0 L480.9,392.8 L481.8,392.5 L482.8,392.3 L483.8,392.1 L484.8,392.0 L485.8,391.9 L486.8,391.8 L487.8,391.8 L488.8,391.8 L489.8,391.8 L490.8,391.9 L491.7,392.0 L492.7,392.1 L493.7,392.2 L494.7,392.3 L495.7,392.5 L496.7,392.6 L497.7,392.7 L498.7,392.8 L499.7,393.0 L500.7,393.1 L501.7,393.2 L502.7,393.3 L503.7,393.4 L504.7,393.5 L505.7,393.6 L506.6,393.6 L507.6,393.7 L508.6,393.8 L509.6,393.8 L510.6,393.9 L511.6,393.9 L512.6,393.9 L513.6,393.8 L514.6,393.8 L515.6,393.7 L516.6,393.6 L517.6,393.5 L518.6,393.4 L519.6,393.3 L520.6,393.1 L521.6,393.0 L522.6,392.8 L523.6,392.6 L524.5,392.4 L525.5,392.3 L526.5,392.1 L527.5,391.9 L528.5,391.7 L529.4,391.5 L530.4,391.3 L531.4,391.1 L532.4,390.9 L533.4,390.7 L534.3,390.5 L535.3,390.3 L536.3,390.1 L537.3,389.9 L538.3,389.8 L539.3,389.6 L540.3,389.5 L541.2,389.3 L542.2,389.1 L543.2,389.0 L544.2,388.8 L545.2,388.6 L546.2,388.4 L547.2,388.3 L548.1,388.1 L549.1,387.9 L550.1,387.7 L551.1,387.5 L552.1,387.4 L553.1,387.2 L554.0,387.0 L555.0,386.9 L556.0,386.7 L557.0,386.6 L558.0,386.5 L559.0,386.4 L560.0,386.3 L561.0,386.2 L562.0,386.1 L563.0,386.1 L564.0,386.0 L565.0,386.0 L566.0,386.0 L567.0,386.1 L568.0,386.1 L569.0,386.1 L570.0,386.2 L571.0,386.3 L572.0,386.4 L573.0,386.5 L574.0,386.6 L575.0,386.7 L575.9,386.8 L576.9,387.0 L577.9,387.1 L578.9,387.2 L579.9,387.4 L580.9,387.5 L581.9,387.7 L582.9,387.9 L583.9,388.0 L584.8,388.2 L585.8,388.3 L586.8,388.5 L587.8,388.7 L588.8,388.8 L589.8,389.0 L590.8,389.1 L591.7,389.3 L592.7,389.5 L593.7,389.7 L594.7,389.9 L595.7,390.1 L596.6,390.3 L597.6,390.5 L598.6,390.7 L599.6,391.0 L600.6,391.2 L601.5,391.4 L602.5,391.6 L603.5,391.8 L604.5,392.0 L605.5,392.1 L606.4,392.3 L607.4,392.4 L608.4,392.5 L609.4,392.7 L610.4,392.8 L611.4,392.9 L612.4,393.0 L613.4,393.1 L614.4,393.2 L615.4,393.3 L616.4,393.4 L617.4,393.5 L618.4,393.6 L619.4,393.6 L620.4,393.7 L621.4,393.8 L622.4,393.8 L623.4,393.8 L624.4,393.9 L625.4,393.9 L626.4,393.9 L627.4,393.8 L628.4,393.8 L629.4,393.7 L630.4,393.6 L631.3,393.5 L632.3,393.4 L633.3,393.3 L634.3,393.1 L635.3,393.0 L636.3,392.8 L637.3,392.6 L638.3,392.4 L639.2,392.3 L640.2,392.1 L641.2,391.9 L642.2,391.7 L643.2,391.6 L644.2,391.4 L645.2,391.2 L646.1,391.1 L647.1,391.0 L648.1,390.9 L649.1,390.7 L650.1,390.7 L651.1,390.6 L652.1,390.6 L653.1,390.5 L654.1,390.6 L655.1,390.6 L656.1,390.8 L657.1,390.9 L658.1,391.1 L659.0,391.4 L660.0,391.6 L660.9,391.9 L661.9,392.2 L662.8,392.6 L663.8,392.9 L664.7,393.2 L665.7,393.6 L666.6,393.9 L667.6,394.2 L668.5,394.6 L669.5,394.9 L670.4,395.1 L671.4,395.4 L672.3,395.7 L673.3,396.0 L674.3,396.2 L675.2,396.5 L676.2,396.8 L677.1,397.1 L678.1,397.4 L679.1,397.6 L680.0,397.9 L681.0,398.1 L682.0,398.4 L682.9,398.5 L683.9,398.7 L684.9,398.8 L685.9,398.9 L686.9,399.0 L687.9,399.0 L688.9,399.0 L689.9,399.0 L690.9,399.0 L691.9,399.0 L692.9,399.0 L693.9,399.0 L694.9,399.0 L695.9,399.0 L696.9,399.0 L697.9,399.0 L698.9,398.9 L699.9,398.9 L700.9,398.7 L701.9,398.5 L702.8,398.2 L703.7,397.9 L704.6,397.5 L705.5,397.0 L706.4,396.5 L707.3,396.0 L708.1,395.5 L708.9,394.9 L709.7,394.3 L710.5,393.7 L711.3,393.0 L711.9,392.3 L712.6,391.6 L713.2,390.8 L713.7,389.9 L714.2,389.1 L714.7,388.2 L715.2,387.3 L715.6,386.4 L716.1,385.5 L716.5,384.6 L716.9,383.7 L717.3,382.8 L717.8,381.9 L718.2,381.0 L718.6,380.1 L719.0,379.2 L719.4,378.2 L719.7,377.3 L720.1,376.4 L720.5,375.4 L720.8,374.5 L721.1,373.6 L721.5,372.6 L721.8,371.7 L722.1,370.7 L722.4,369.8 L722.7,368.8 L723.0,367.9 L723.3,366.9 L723.6,366.0 L723.9,365.0 L724.2,364.0 L724.5,363.1 L724.8,362.1 L725.0,361.2 L725.3,360.2 L725.6,359.2 L725.9,358.3 L726.2,357.3 L726.4,356.4 L726.7,355.4 L727.0,354.4 L727.2,353.5 L727.5,352.5 L727.8,351.5 L728.0,350.6 L728.3,349.6 L728.5,348.6 L728.7,347.7 L729.0,346.7 L729.2,345.7 L729.4,344.7 L729.6,343.8 L729.9,342.8 L730.1,341.8 L730.3,340.8 L730.5,339.9 L730.7,338.9 L730.9,337.9 L731.0,336.9 L731.2,335.9 L731.4,334.9 L731.5,333.9 L731.7,333.0 L731.8,332.0 L732.0,331.0 L732.1,330.0 L732.3,329.0 L732.4,328.0 L732.6,327.0 L732.7,326.0 L732.9,325.0 L733.0,324.1 L733.2,323.1 L733.3,322.1 L733.5,321.1 L733.7,320.1 L733.9,319.1 L734.0,318.1 L734.2,317.2 L734.4,316.2 L734.6,315.2 L734.8,314.2 L735.0,313.2 L735.1,312.2 L735.3,311.3 L735.5,310.3 L735.7,309.3 L735.9,308.3 L736.1,307.3 L736.3,306.4 L736.5,305.4 L736.8,304.4 L737.0,303.4 L737.2,302.5 L737.5,301.5 L737.7,300.5 L738.0,299.6 L738.3,298.6 L738.6,297.7 L739.0,296.7 L739.3,295.8 L739.6,294.8 L740.0,293.9 L740.4,293.0 L740.8,292.1 L741.3,291.4 L741.9,290.9 L742.5,290.9 L743.1,291.2 L743.6,291.8 L744.0,292.6 L744.4,293.6 L744.7,294.5 L745.0,295.5 L745.3,296.4 L745.6,297.4 L745.8,298.4 L746.0,299.3 L746.3,300.3 L746.5,301.3 L746.7,302.3 L746.8,303.2 L747.0,304.2 L747.1,305.2 L747.3,306.2 L747.4,307.2 L747.5,308.2 L747.7,309.2 L747.8,310.2 L747.9,311.2 L748.1,312.2 L748.2,313.1 L748.3,314.1 L748.4,315.1 L748.6,316.1 L748.7,317.1 L748.8,318.1 L749.0,319.1 L749.1,320.1 L749.3,321.1 L749.4,322.1 L749.5,323.1 L749.7,324.0 L749.8,325.0 L750.0,326.0 L750.1,327.0 L750.3,328.0 L750.4,329.0 L750.6,330.0 L750.7,331.0 L750.8,332.0 L751.0,332.9 L751.1,333.9 L751.3,334.9 L751.4,335.9 L751.6,336.9 L751.7,337.9 L751.8,338.9 L752.0,339.9 L752.1,340.9 L752.3,341.9 L752.4,342.9 L752.5,343.8 L752.7,344.8 L752.8,345.8 L752.9,346.8 L753.0,347.8 L753.2,348.8 L753.3,349.8 L753.4,350.8 L753.6,351.8 L753.7,352.8 L753.8,353.8 L754.0,354.7 L754.1,355.7 L754.3,356.7 L754.4,357.7 L754.6,358.7 L754.7,359.7 L754.9,360.7 L755.1,361.7 L755.3,362.6 L755.4,363.6 L755.6,364.6 L755.9,365.6 L756.1,366.6 L756.3,367.5 L756.5,368.5 L756.7,369.5 L756.9,370.5 L757.2,371.4 L757.4,372.4 L757.6,373.4 L757.8,374.4 L758.0,375.3 L758.2,376.3 L758.4,377.3 L758.6,378.3 L758.8,379.3 L758.9,380.3 L759.1,381.2 L759.3,382.2 L759.4,383.2 L759.5,384.2 L759.7,385.2 L759.8,386.2 L760.0,387.2 L760.1,388.2 L760.2,389.2 L760.4,390.2 L760.5,391.1 L760.6,392.1 L760.8,393.1 L760.9,394.1 L761.1,395.1 L761.2,396.1 L761.4,397.1 L761.6,398.1 L761.8,399.0 L762.0,400.0 L762.3,401.0 L762.6,401.9 L762.9,402.9 L763.2,403.8 L763.6,404.7 L764.0,405.7 L764.4,406.6 L764.8,407.5 L765.2,408.4 L765.7,409.3 L766.1,410.2 L766.6,411.1 L767.0,412.0 L767.5,412.8 L768.0,413.7 L768.5,414.6 L769.0,415.4 L769.6,416.3 L770.1,417.1 L770.6,418.0 L771.1,418.9 L771.6,419.7 L772.1,420.6 L772.6,421.5 L773.1,422.3 L773.7,423.1 L774.2,424.0 L774.9,424.7 L775.5,425.5 L776.2,426.2 L777.0,426.8 L777.8,427.4 L778.6,428.0 L779.4,428.6 L780.3,429.1 L781.1,429.6 L782.0,430.0 L782.9,430.4 L783.9,430.8 L784.8,431.2 L785.7,431.6 L786.7,431.9 L787.6,432.2 L788.6,432.5 L789.5,432.8 L790.5,433.1 L791.4,433.4 L792.4,433.7 L793.4,433.9 L794.3,434.2 L795.3,434.4 L796.3,434.7 L797.2,434.9 L798.2,435.1 L799.2,435.3 L800.2,435.5 L801.2,435.7 L802.1,435.9 L803.1,436.1 L804.1,436.3 L805.1,436.5 L806.1,436.6 L807.1,436.8 L808.0,436.9 L809.0,437.1 L810.0,437.2 L811.0,437.3 L812.0,437.4 L813.0,437.5 L814.0,437.6 L815.0,437.7 L816.0,437.8 L817.0,437.9 L818.0,438.0 L819.0,438.0 L820.0,438.1 L821.0,438.2 L822.0,438.2 L823.0,438.3 L824.0,438.3 L825.0,438.4 L826.0,438.4 L827.0,438.4 L828.0,438.5 L829.0,438.5 L830.0,438.5 L831.0,438.5 L832.0,438.5 L833.0,438.5 L834.0,438.5 L835.0,438.4 L836.0,438.4 L837.0,438.4 L838.0,438.4 L839.0,438.4 L840.0,438.3 L841.0,438.3 L842.0,438.3 L843.0,438.2 L844.0,438.2 L845.0,438.2 L846.0,438.1 L847.0,438.1 L848.0,438.0 L849.0,438.0 L850.0,438.0 L851.0,437.9 L852.0,437.9 L853.0,437.8 L854.0,437.8 L855.0,437.8 L856.0,437.7 L857.0,437.7 L858.0,437.6 L859.0,437.6 L860.0,437.6 L861.0,437.5 L862.0,437.5 L863.0,437.5 L864.0,437.5 L865.0,437.5 L866.0,437.4 L867.0,437.4 L868.0,437.4 L869.0,437.4 L870.0,437.4 L871.0,437.4 L872.0,437.4 L873.0,437.4 L874.0,437.4 L875.0,437.4 L876.0,437.5 L877.0,437.5 L878.0,437.5 L879.0,437.5 L880.0,437.5 L881.0,437.6 L882.0,437.6 L883.0,437.6 L884.0,437.7 L885.0,437.7 L886.0,437.7 L887.0,437.7 L887.9,437.8 L888.9,437.8 L889.9,437.9 L890.9,437.9 L891.9,437.9 L892.9,438.0 L893.9,438.0 L894.9,438.0 L895.9,438.1 L896.9,438.1 L897.9,438.1 L898.9,438.2 L899.9,438.2 L900.9,438.2 L901.9,438.3 L902.9,438.3 L903.9,438.3 L904.9,438.4 L905.9,438.4 L906.9,438.4 L907.9,438.5 L908.9,438.5 L909.9,438.5 L910.9,438.6 L911.9,438.6 L912.9,438.6 L913.9,438.7 L914.9,438.7 L915.9,438.7 L916.9,438.8 L917.9,438.8 L918.9,438.8 L919.9,438.9 L920.9,438.9 L921.9,439.0 L922.9,439.0 L923.9,439.0 L924.9,439.1 L925.9,439.1 L926.9,439.2 L927.9,439.2 L928.9,439.2 L929.9,439.3 L930.9,439.3 L931.9,439.4 L932.9,439.4 L933.9,439.4 L934.9,439.5 L935.9,439.5 L936.9,439.6 L937.8,439.6 L938.7,439.6 L939.3,439.7" fill="none" stroke="#555" stroke-width="2" stroke-dasharray="7.5 7.3"/>
<path d="M88.6,439.7 L89.3,439.7 L90.1,439.7 L91.0,439.7 L92.0,439.7 L93.0,439.7 L94.0,439.7 L95.0,439.7 L96.0,439.7 L97.0,439.7 L98.0,439.7 L99.0,439.7 L100.0,439.7 L101.0,439.7 L102.0,439.7 L103.0,439.7 L104.0,439.7 L105.0,439.7 L106.0,439.7 L107.0,439.7 L108.0,439.7 L109.0,439.7 L110.0,439.7 L111.0,439.7 L112.0,439.7 L113.0,439.7 L114.0,439.7 L115.0,439.7 L116.0,439.7 L117.0,439.7 L118.0,439.7 L119.0,439.7 L120.0,439.7 L121.0,439.7 L122.0,439.7 L123.0,439.7 L124.0,439.7 L125.0,439.7 L126.0,439.7 L127.0,439.7 L128.0,439.7 L129.0,439.7 L130.0,439.7 L131.0,439.7 L132.0,439.7 L133.0,439.7 L134.0,439.7 L135.0,439.7 L136.0,439.7 L137.0,439.7 L138.0,439.7 L139.0,439.7 L140.0,439.7 L141.0,439.7 L142.0,439.7 L143.0,439.7 L144.0,439.7 L145.0,439.7 L146.0,439.7 L147.0,439.7 L148.0,439.7 L149.0,439.7 L150.0,439.7 L151.0,439.7 L152.0,439.7 L153.0,439.7 L154.0,439.7 L155.0,439.7 L156.0,439.7 L157.0,439.7 L158.0,439.7 L159.0,439.7 L160.0,439.7 L161.0,439.7 L162.0,439.7 L163.0,439.7 L164.0,439.7 L165.0,439.7 L166.0,439.7 L167.0,439.7 L168.0,439.7 L169.0,439.7 L170.0,439.7 L171.0,439.7 L172.0,439.7 L173.0,439.7 L174.0,439.7 L175.0,439.7 L176.0,439.7 L177.0,439.7 L178.0,439.7 L179.0,439.7 L180.0,439.7 L181.0,439.7 L182.0,439.7 L183.0,439.7 L184.0,439.7 L185.0,439.7 L186.0,439.7 L187.0,439.7 L188.0,439.7 L189.0,439.7 L190.0,439.7 L191.0,439.7 L192.0,439.7 L193.0,439.7 L194.0,439.7 L195.0,439.7 L196.0,439.7 L197.0,439.7 L198.0,439.7 L199.0,439.7 L200.0,439.7 L201.0,439.7 L202.0,439.7 L203.0,439.7 L204.0,439.7 L205.0,439.7 L206.0,439.7 L207.0,439.7 L208.0,439.7 L209.0,439.7 L210.0,439.7 L211.0,439.7 L212.0,439.7 L213.0,439.7 L214.0,439.7 L215.0,439.7 L216.0,439.7 L217.0,439.7 L218.0,439.7 L219.0,439.7 L220.0,439.7 L221.0,439.7 L222.0,439.7 L223.0,439.7 L224.0,439.7 L225.0,439.7 L226.0,439.7 L227.0,439.7 L228.0,439.7 L229.0,439.7 L230.0,439.7 L231.0,439.7 L232.0,439.7 L233.0,439.7 L234.0,439.7 L235.0,439.7 L236.0,439.7 L237.0,439.7 L238.0,439.7 L239.0,439.7 L240.0,439.7 L241.0,439.7 L242.0,439.7 L243.0,439.7 L244.0,439.7 L245.0,439.7 L246.0,439.7 L247.0,439.7 L248.0,439.7 L249.0,439.7 L250.0,439.7 L251.0,439.7 L252.0,439.7 L253.0,439.7 L254.0,439.7 L255.0,439.7 L256.0,439.7 L257.0,439.7 L258.0,439.7 L259.0,439.7 L260.0,439.7 L261.0,439.7 L262.0,439.7 L263.0,439.7 L264.0,439.7 L265.0,439.7 L266.0,439.7 L267.0,439.7 L268.0,439.7 L269.0,439.7 L270.0,439.7 L271.0,439.7 L272.0,439.7 L273.0,439.7 L274.0,439.7 L275.0,439.7 L276.0,439.7 L277.0,439.7 L278.0,439.7 L279.0,439.7 L280.0,439.7 L281.0,439.7 L282.0,439.7 L283.0,439.7 L284.0,439.7 L285.0,439.7 L286.0,439.7 L287.0,439.7 L288.0,439.7 L289.0,439.7 L290.0,439.7 L291.0,439.7 L292.0,439.7 L293.0,439.7 L294.0,439.7 L295.0,439.7 L296.0,439.7 L297.0,439.7 L298.0,439.7 L299.0,439.7 L300.0,439.7 L301.0,439.7 L302.0,439.7 L303.0,439.7 L304.0,439.7 L305.0,439.7 L306.0,439.7 L307.0,439.7 L308.0,439.7 L309.0,439.7 L310.0,439.7 L311.0,439.7 L312.0,439.7 L313.0,439.7 L314.0,439.7 L315.0,439.7 L316.0,439.6 L317.0,439.6 L318.0,439.5 L319.0,439.4 L320.0,439.3 L321.0,439.1 L321.9,438.9 L322.9,438.7 L323.9,438.5 L324.9,438.2 L325.8,437.9 L326.7,437.5 L327.6,437.1 L328.4,436.5 L329.1,435.8 L329.8,435.1 L330.4,434.3 L330.9,433.5 L331.5,432.7 L332.0,431.8 L332.4,430.9 L332.9,430.0 L333.2,429.1 L333.6,428.2 L333.9,427.2 L334.2,426.3 L334.5,425.3 L334.8,424.3 L335.1,423.4 L335.4,422.4 L335.6,421.5 L335.9,420.5 L336.1,419.5 L336.4,418.6 L336.6,417.6 L336.8,416.6 L337.0,415.6 L337.2,414.7 L337.4,413.7 L337.6,412.7 L337.8,411.7 L338.0,410.7 L338.2,409.7 L338.3,408.8 L338.5,407.8 L338.6,406.8 L338.8,405.8 L338.9,404.8 L339.1,403.8 L339.2,402.8 L339.3,401.8 L339.4,400.8 L339.5,399.8 L339.7,398.8 L339.8,397.8 L339.9,396.9 L339.9,395.9 L340.0,394.9 L340.1,393.9 L340.2,392.9 L340.3,391.9 L340.4,390.9 L340.4,389.9 L340.5,388.9 L340.6,387.9 L340.7,386.9 L340.7,385.9 L340.8,384.9 L340.8,383.9 L340.9,382.9 L340.9,381.9 L341.0,380.9 L341.0,379.9 L341.1,378.9 L341.1,377.9 L341.1,376.9 L341.2,375.9 L341.2,374.9 L341.3,373.9 L341.3,372.9 L341.3,371.9 L341.4,370.9 L341.4,369.9 L341.4,368.9 L341.5,367.9 L341.5,366.9 L341.6,365.9 L341.6,364.9 L341.6,363.9 L341.7,362.9 L341.7,361.9 L341.8,360.9 L341.8,359.9 L341.8,358.9 L341.9,357.9 L341.9,356.9 L342.0,355.9 L342.0,354.9 L342.1,353.9 L342.1,352.9 L342.2,351.9 L342.3,350.9 L342.3,349.9 L342.4,348.9 L342.4,347.9 L342.5,346.9 L342.5,345.9 L342.6,344.9 L342.6,343.9 L342.7,342.9 L342.7,341.9 L342.8,340.9 L342.8,339.9 L342.8,338.9 L342.9,337.9 L342.9,336.9 L343.0,335.9 L343.0,334.9 L343.1,333.9 L343.1,332.9 L343.1,331.9 L343.2,330.9 L343.2,329.9 L343.3,328.9 L343.3,327.9 L343.3,326.9 L343.4,325.9 L343.4,324.9 L343.5,323.9 L343.5,322.9 L343.5,321.9 L343.6,320.9 L343.6,320.0 L343.7,319.0 L343.7,318.0 L343.7,317.0 L343.8,316.0 L343.8,315.0 L343.8,314.0 L343.9,313.0 L343.9,312.0 L343.9,311.0 L344.0,310.0 L344.0,309.0 L344.1,308.0 L344.1,307.0 L344.1,306.0 L344.2,305.0 L344.2,304.0 L344.2,303.0 L344.3,302.0 L344.3,301.0 L344.3,300.0 L344.4,299.0 L344.4,298.0 L344.4,297.0 L344.5,296.0 L344.5,295.0 L344.5,294.0 L344.6,293.0 L344.6,292.0 L344.6,291.0 L344.7,290.0 L344.7,289.0 L344.7,288.0 L344.8,287.0 L344.8,286.0 L344.8,285.0 L344.9,284.0 L344.9,283.0 L344.9,282.0 L345.0,281.0 L345.0,280.0 L345.0,279.0 L345.1,278.0 L345.1,277.0 L345.1,276.0 L345.2,275.0 L345.2,274.0 L345.2,273.0 L345.3,272.0 L345.3,271.0 L345.3,270.0 L345.4,269.0 L345.4,268.0 L345.4,267.0 L345.5,266.0 L345.5,265.0 L345.5,264.0 L345.6,263.0 L345.6,262.0 L345.6,261.0 L345.7,260.0 L345.7,259.0 L345.7,258.0 L345.8,257.0 L345.8,256.0 L345.8,255.0 L345.8,254.0 L345.9,253.0 L345.9,252.0 L345.9,251.0 L346.0,250.0 L346.0,249.0 L346.0,248.0 L346.1,247.0 L346.1,246.0 L346.1,245.0 L346.2,244.0 L346.2,243.0 L346.2,242.0 L346.3,241.0 L346.3,240.0 L346.3,239.0 L346.4,238.0 L346.4,237.0 L346.4,236.0 L346.5,235.0 L346.5,234.0 L346.5,233.0 L346.6,232.0 L346.6,231.0 L346.6,230.0 L346.6,229.0 L346.7,228.0 L346.7,227.0 L346.7,226.0 L346.8,225.0 L346.8,224.0 L346.8,223.0 L346.9,222.0 L346.9,221.0 L346.9,220.0 L346.9,219.0 L347.0,218.0 L347.0,217.0 L347.0,216.0 L347.1,215.0 L347.1,214.0 L347.1,213.0 L347.1,212.0 L347.2,211.0 L347.2,210.0 L347.2,209.0 L347.3,208.0 L347.3,207.0 L347.3,206.0 L347.3,205.0 L347.4,204.0 L347.4,203.0 L347.4,202.0 L347.5,201.0 L347.5,200.0 L347.5,199.0 L347.5,198.0 L347.6,197.0 L347.6,196.0 L347.6,195.0 L347.7,194.0 L347.7,193.0 L347.7,192.0 L347.7,191.0 L347.8,190.0 L347.8,189.0 L347.8,188.0 L347.9,187.0 L347.9,186.0 L347.9,185.0 L347.9,184.0 L348.0,183.0 L348.0,182.0 L348.0,181.0 L348.1,180.0 L348.1,179.0 L348.1,178.0 L348.1,177.0 L348.2,176.0 L348.2,175.0 L348.2,174.0 L348.3,173.0 L348.3,172.0 L348.3,171.0 L348.3,170.0 L348.4,169.0 L348.4,168.0 L348.4,167.0 L348.5,166.0 L348.5,165.0 L348.5,164.0 L348.6,163.0 L348.6,162.0 L348.6,161.0 L348.6,160.0 L348.7,159.0 L348.7,158.0 L348.7,157.0 L348.8,156.0 L348.8,155.0 L348.8,154.0 L348.9,153.0 L348.9,152.0 L348.9,151.0 L349.0,150.0 L349.0,149.0 L349.0,148.0 L349.1,147.0 L349.1,146.0 L349.1,145.0 L349.2,144.0 L349.2,143.0 L349.2,142.0 L349.3,141.0 L349.3,140.0 L349.3,139.0 L349.4,138.0 L349.4,137.0 L349.4,136.0 L349.5,135.0 L349.5,134.0 L349.5,133.0 L349.6,132.0 L349.6,131.0 L349.7,130.0 L349.7,129.0 L349.7,128.0 L349.8,127.0 L349.8,126.0 L349.8,125.1 L349.9,124.1 L349.9,123.1 L349.9,122.1 L350.0,121.1 L350.0,120.1 L350.1,119.1 L350.1,118.1 L350.1,117.1 L350.2,116.1 L350.2,115.1 L350.2,114.1 L350.3,113.1 L350.3,112.1 L350.4,111.1 L350.4,110.1 L350.4,109.1 L350.5,108.1 L350.5,107.1 L350.6,106.1 L350.6,105.1 L350.7,104.1 L350.7,103.1 L350.8,102.1 L350.8,101.1 L350.9,100.1 L350.9,99.1 L351.0,98.1 L351.0,97.1 L351.1,96.1 L351.2,95.1 L351.2,94.1 L351.3,93.1 L351.3,92.1 L351.4,91.1 L351.5,90.1 L351.5,89.1 L351.6,88.1 L351.7,87.1 L351.8,86.1 L351.8,85.1 L351.9,84.1 L352.0,83.1 L352.1,82.1 L352.1,81.1 L352.2,80.1 L352.3,79.1 L352.3,78.1 L352.4,77.1 L352.4,76.1 L352.5,75.1 L352.5,74.1 L352.6,73.1 L352.7,72.1 L352.7,71.1 L352.8,70.1 L352.9,69.1 L352.9,68.1 L353.1,67.2 L353.2,66.2 L353.5,65.2 L353.9,64.4 L354.4,63.8 L354.9,63.5 L355.5,63.7 L356.0,64.2 L356.4,65.0 L356.6,65.9 L356.8,66.9 L357.0,67.8 L357.1,68.8 L357.3,69.8 L357.4,70.8 L357.5,71.8 L357.6,72.8 L357.8,73.8 L357.9,74.8 L358.0,75.8 L358.1,76.8 L358.2,77.8 L358.3,78.8 L358.5,79.7 L358.6,80.7 L358.7,81.7 L358.9,82.7 L359.0,83.7 L359.2,84.7 L359.3,85.7 L359.4,86.7 L359.6,87.7 L359.7,88.7 L359.9,89.6 L360.0,90.6 L360.1,91.6 L360.3,92.6 L360.4,93.6 L360.5,94.6 L360.7,95.6 L360.8,96.6 L360.9,97.6 L361.0,98.6 L361.1,99.6 L361.2,100.6 L361.3,101.6 L361.4,102.5 L361.5,103.5 L361.6,104.5 L361.7,105.5 L361.8,106.5 L361.9,107.5 L362.0,108.5 L362.0,109.5 L362.1,110.5 L362.2,111.5 L362.3,112.5 L362.4,113.5 L362.4,114.5 L362.5,115.5 L362.6,116.5 L362.7,117.5 L362.8,118.5 L362.8,119.5 L362.9,120.5 L363.0,121.5 L363.1,122.5 L363.1,123.5 L363.2,124.5 L363.3,125.5 L363.4,126.5 L363.4,127.5 L363.5,128.5 L363.6,129.5 L363.7,130.5 L363.8,131.5 L363.8,132.5 L363.9,133.4 L364.0,134.4 L364.1,135.4 L364.2,136.4 L364.3,137.4 L364.4,138.4 L364.4,139.4 L364.5,140.4 L364.6,141.4 L364.7,142.4 L364.8,143.4 L364.9,144.4 L365.0,145.4 L365.1,146.4 L365.2,147.4 L365.3,148.4 L365.4,149.4 L365.5,150.4 L365.6,151.4 L365.7,152.4 L365.8,153.4 L365.9,154.4 L366.0,155.4 L366.1,156.3 L366.2,157.3 L366.3,158.3 L366.4,159.3 L366.5,160.3 L366.6,161.3 L366.7,162.3 L366.8,163.3 L366.9,164.3 L367.0,165.3 L367.1,166.3 L367.2,167.3 L367.3,168.3 L367.4,169.3 L367.5,170.3 L367.6,171.3 L367.7,172.3 L367.8,173.3 L367.9,174.3 L368.0,175.2 L368.1,176.2 L368.2,177.2 L368.3,178.2 L368.4,179.2 L368.5,180.2 L368.6,181.2 L368.7,182.2 L368.8,183.2 L368.9,184.2 L369.1,185.2 L369.2,186.2 L369.3,187.2 L369.4,188.2 L369.5,189.2 L369.6,190.2 L369.7,191.2 L369.8,192.2 L369.9,193.1 L370.0,194.1 L370.1,195.1 L370.2,196.1 L370.4,197.1 L370.5,198.1 L370.6,199.1 L370.7,200.1 L370.8,201.1 L370.9,202.1 L371.0,203.1 L371.1,204.1 L371.3,205.1 L371.4,206.1 L371.5,207.1 L371.6,208.1 L371.7,209.0 L371.8,210.0 L371.9,211.0 L372.1,212.0 L372.2,213.0 L372.3,214.0 L372.4,215.0 L372.5,216.0 L372.6,217.0 L372.7,218.0 L372.9,219.0 L373.0,220.0 L373.1,221.0 L373.2,222.0 L373.3,223.0 L373.5,223.9 L373.6,224.9 L373.7,225.9 L373.8,226.9 L373.9,227.9 L374.0,228.9 L374.2,229.9 L374.3,230.9 L374.4,231.9 L374.5,232.9 L374.6,233.9 L374.8,234.9 L374.9,235.9 L375.0,236.9 L375.1,237.8 L375.3,238.8 L375.4,239.8 L375.5,240.8 L375.6,241.8 L375.7,242.8 L375.9,243.8 L376.0,244.8 L376.1,245.8 L376.2,246.8 L376.4,247.8 L376.5,248.8 L376.6,249.8 L376.7,250.7 L376.8,251.7 L377.0,252.7 L377.1,253.7 L377.2,254.7 L377.3,255.7 L377.4,256.7 L377.6,257.7 L377.7,258.7 L377.8,259.7 L377.9,260.7 L378.0,261.7 L378.2,262.7 L378.3,263.7 L378.4,264.6 L378.5,265.6 L378.6,266.6 L378.8,267.6 L378.9,268.6 L379.0,269.6 L379.1,270.6 L379.3,271.6 L379.4,272.6 L379.5,273.6 L379.6,274.6 L379.7,275.6 L379.9,276.6 L380.0,277.5 L380.1,278.5 L380.2,279.5 L380.4,280.5 L380.5,281.5 L380.6,282.5 L380.7,283.5 L380.8,284.5 L381.0,285.5 L381.1,286.5 L381.2,287.5 L381.3,288.5 L381.5,289.5 L381.6,290.4 L381.7,291.4 L381.9,292.4 L382.0,293.4 L382.1,294.4 L382.2,295.4 L382.4,296.4 L382.5,297.4 L382.6,298.4 L382.8,299.4 L382.9,300.4 L383.0,301.4 L383.2,302.3 L383.3,303.3 L383.4,304.3 L383.6,305.3 L383.7,306.3 L383.8,307.3 L384.0,308.3 L384.1,309.3 L384.3,310.3 L384.4,311.3 L384.5,312.2 L384.7,313.2 L384.8,314.2 L385.0,315.2 L385.1,316.2 L385.3,317.2 L385.4,318.2 L385.6,319.2 L385.7,320.2 L385.9,321.1 L386.0,322.1 L386.2,323.1 L386.4,324.1 L386.5,325.1 L386.7,326.1 L386.8,327.1 L387.0,328.1 L387.2,329.0 L387.4,330.0 L387.5,331.0 L387.7,332.0 L387.9,333.0 L388.1,334.0 L388.3,334.9 L388.5,335.9 L388.7,336.9 L388.9,337.9 L389.1,338.9 L389.3,339.8 L389.5,340.8 L389.7,341.8 L390.0,342.8 L390.2,343.7 L390.4,344.7 L390.7,345.7 L391.0,346.6 L391.2,347.6 L391.5,348.6 L391.8,349.5 L392.1,350.5 L392.4,351.4 L392.7,352.4 L393.0,353.3 L393.3,354.3 L393.6,355.2 L393.9,356.2 L394.1,357.2 L394.4,358.1 L394.7,359.1 L395.0,360.0 L395.2,361.0 L395.5,362.0 L395.7,362.9 L396.0,363.9 L396.3,364.9 L396.5,365.8 L396.8,366.8 L397.0,367.8 L397.3,368.8 L397.5,369.7 L397.8,370.7 L398.0,371.7 L398.3,372.6 L398.5,373.6 L398.8,374.6 L399.0,375.5 L399.3,376.5 L399.6,377.4 L399.9,378.4 L400.1,379.4 L400.4,380.3 L400.7,381.3 L401.0,382.2 L401.3,383.2 L401.6,384.2 L401.9,385.1 L402.2,386.1 L402.5,387.0 L402.8,388.0 L403.1,388.9 L403.4,389.9 L403.7,390.8 L404.0,391.8 L404.4,392.7 L404.8,393.6 L405.1,394.6 L405.5,395.5 L406.0,396.4 L406.4,397.3 L406.8,398.2 L407.3,399.1 L407.8,399.9 L408.3,400.8 L408.8,401.7 L409.3,402.5 L409.8,403.4 L410.3,404.2 L410.8,405.1 L411.3,406.0 L411.8,406.8 L412.3,407.7 L412.8,408.6 L413.3,409.4 L413.9,410.3 L414.4,411.1 L415.0,412.0 L415.5,412.8 L416.1,413.6 L416.7,414.4 L417.3,415.2 L417.9,416.0 L418.6,416.8 L419.2,417.5 L419.8,418.3 L420.5,419.0 L421.2,419.8 L421.9,420.5 L422.6,421.2 L423.3,421.9 L424.0,422.6 L424.8,423.2 L425.6,423.7 L426.5,424.3 L427.3,424.7 L428.2,425.2 L429.1,425.6 L430.1,426.0 L431.0,426.4 L431.9,426.8 L432.9,427.1 L433.8,427.4 L434.7,427.7 L435.7,428.1 L436.7,428.4 L437.6,428.6 L438.6,428.9 L439.5,429.1 L440.5,429.3 L441.5,429.5 L442.5,429.7 L443.5,429.9 L444.5,430.0 L445.4,430.2 L446.4,430.4 L447.4,430.6 L448.4,430.7 L449.4,430.9 L450.4,431.0 L451.4,431.2 L452.4,431.3 L453.3,431.4 L454.3,431.5 L455.3,431.7 L456.3,431.7 L457.3,431.8 L458.3,431.9 L459.3,432.0 L460.3,432.0 L461.3,432.0 L462.3,432.1 L463.3,432.1 L464.3,432.1 L465.3,432.1 L466.3,432.2 L467.3,432.2 L468.3,432.2 L469.3,432.2 L470.3,432.2 L471.3,432.2 L472.3,432.3 L473.3,432.3 L474.3,432.3 L475.3,432.3 L476.3,432.3 L477.3,432.3 L478.3,432.3 L479.3,432.3 L480.3,432.3 L481.3,432.3 L482.3,432.3 L483.3,432.3 L484.3,432.3 L485.3,432.2 L486.3,432.2 L487.3,432.2 L488.3,432.2 L489.3,432.2 L490.3,432.1 L491.3,432.1 L492.3,432.1 L493.3,432.1 L494.3,432.1 L495.3,432.0 L496.3,432.0 L497.3,432.0 L498.3,432.0 L499.3,432.0 L500.3,432.0 L501.3,432.0 L502.3,432.0 L503.3,432.0 L504.3,432.0 L505.3,432.0 L506.3,432.0 L507.3,432.1 L508.3,432.1 L509.3,432.1 L510.3,432.1 L511.3,432.1 L512.3,432.2 L513.3,432.2 L514.3,432.2 L515.3,432.2 L516.3,432.3 L517.3,432.3 L518.3,432.3 L519.3,432.4 L520.3,432.4 L521.3,432.4 L522.3,432.5 L523.3,432.5 L524.3,432.6 L525.3,432.6 L526.3,432.6 L527.3,432.7 L528.3,432.7 L529.3,432.7 L530.3,432.8 L531.3,432.8 L532.3,432.9 L533.3,432.9 L534.3,432.9 L535.3,433.0 L536.3,433.0 L537.3,433.1 L538.3,433.1 L539.3,433.1 L540.3,433.2 L541.3,433.2 L542.3,433.3 L543.3,433.3 L544.3,433.3 L545.3,433.4 L546.3,433.4 L547.3,433.4 L548.3,433.5 L549.3,433.5 L550.3,433.5 L551.3,433.5 L552.3,433.6 L553.3,433.6 L554.3,433.6 L555.3,433.7 L556.3,433.7 L557.3,433.7 L558.3,433.8 L559.3,433.8 L560.3,433.8 L561.3,433.9 L562.3,433.9 L563.3,433.9 L564.3,434.0 L565.3,434.0 L566.3,434.0 L567.3,434.0 L568.3,434.1 L569.3,434.1 L570.3,434.1 L571.3,434.2 L572.3,434.2 L573.3,434.2 L574.3,434.3 L575.3,434.3 L576.3,434.3 L577.3,434.3 L578.3,434.4 L579.3,434.4 L580.3,434.4 L581.3,434.4 L582.3,434.4 L583.3,434.4 L584.3,434.5 L585.3,434.5 L586.3,434.5 L587.3,434.5 L588.3,434.5 L589.3,434.5 L590.3,434.5 L591.3,434.5 L592.3,434.5 L593.3,434.4 L594.3,434.4 L595.3,434.3 L596.3,434.3 L597.3,434.2 L598.3,434.1 L599.3,434.0 L600.3,433.9 L601.3,433.8 L602.2,433.8 L603.2,433.7 L604.2,433.6 L605.2,433.5 L606.2,433.4 L607.2,433.3 L608.2,433.2 L609.2,433.1 L610.2,433.0 L611.2,432.9 L612.2,432.8 L613.2,432.7 L614.2,432.6 L615.2,432.5 L616.2,432.4 L617.2,432.3 L618.2,432.2 L619.2,432.1 L620.2,432.0 L621.2,431.8 L622.1,431.7 L623.1,431.6 L624.1,431.4 L625.1,431.3 L626.1,431.1 L627.1,431.0 L628.1,430.8 L629.1,430.7 L630.0,430.5 L631.0,430.3 L632.0,430.1 L633.0,429.9 L634.0,429.7 L634.9,429.5 L635.9,429.3 L636.9,429.1 L637.9,428.9 L638.9,428.7 L639.9,428.5 L640.8,428.4 L641.8,428.2 L642.8,428.0 L643.8,427.9 L644.8,427.7 L645.8,427.6 L646.8,427.4 L647.8,427.3 L648.7,427.2 L649.7,427.0 L650.7,426.9 L651.7,426.8 L652.7,426.6 L653.7,426.5 L654.7,426.4 L655.7,426.3 L656.7,426.2 L657.7,426.1 L658.7,426.1 L659.7,426.0 L660.7,426.0 L661.7,426.0 L662.7,426.0 L663.7,426.0 L664.7,426.0 L665.7,426.0 L666.7,426.0 L667.7,426.0 L668.7,426.0 L669.7,426.0 L670.7,426.0 L671.7,426.0 L672.7,426.1 L673.7,426.1 L674.7,426.1 L675.7,426.2 L676.7,426.2 L677.7,426.2 L678.7,426.3 L679.7,426.3 L680.7,426.3 L681.7,426.3 L682.7,426.3 L683.7,426.3 L684.7,426.3 L685.7,426.3 L686.7,426.3 L687.7,426.2 L688.7,426.2 L689.7,426.2 L690.7,426.1 L691.7,426.1 L692.7,426.0 L693.7,425.9 L694.6,425.8 L695.6,425.6 L696.6,425.5 L697.6,425.4 L698.6,425.2 L699.6,425.1 L700.6,424.9 L701.6,424.8 L702.6,424.6 L703.6,424.5 L704.5,424.3 L705.5,424.2 L706.5,424.0 L707.5,423.9 L708.5,423.7 L709.5,423.6 L710.5,423.4 L711.5,423.3 L712.4,423.1 L713.4,422.9 L714.4,422.8 L715.4,422.6 L716.4,422.5 L717.4,422.3 L718.4,422.2 L719.4,422.1 L720.4,422.0 L721.4,421.9 L722.4,421.8 L723.4,421.7 L724.4,421.6 L725.4,421.6 L726.3,421.5 L727.3,421.5 L728.3,421.4 L729.3,421.3 L730.3,421.3 L731.3,421.2 L732.3,421.2 L733.3,421.1 L734.3,421.1 L735.3,421.1 L736.3,421.1 L737.3,421.1 L738.3,421.2 L739.3,421.4 L740.3,421.6 L741.2,421.8 L742.2,422.1 L743.1,422.5 L744.0,422.9 L744.9,423.3 L745.8,423.8 L746.6,424.3 L747.5,424.9 L748.3,425.4 L749.2,426.0 L750.0,426.5 L750.8,427.1 L751.6,427.6 L752.5,428.2 L753.3,428.8 L754.1,429.4 L754.9,429.9 L755.8,430.5 L756.6,431.0 L757.5,431.5 L758.4,432.0 L759.3,432.4 L760.2,432.8 L761.1,433.2 L762.0,433.5 L763.0,433.8 L764.0,434.1 L764.9,434.3 L765.9,434.6 L766.9,434.8 L767.8,435.0 L768.8,435.3 L769.8,435.4 L770.8,435.6 L771.8,435.8 L772.7,436.0 L773.7,436.1 L774.7,436.3 L775.7,436.4 L776.7,436.6 L777.7,436.7 L778.7,436.8 L779.7,437.0 L780.7,437.1 L781.7,437.2 L782.7,437.3 L783.7,437.4 L784.6,437.5 L785.6,437.6 L786.6,437.7 L787.6,437.8 L788.6,437.9 L789.6,438.0 L790.6,438.0 L791.6,438.1 L792.6,438.1 L793.6,438.2 L794.6,438.2 L795.6,438.3 L796.6,438.3 L797.6,438.3 L798.6,438.4 L799.6,438.4 L800.6,438.4 L801.6,438.5 L802.6,438.5 L803.6,438.5 L804.6,438.5 L805.6,438.6 L806.6,438.6 L807.6,438.6 L808.6,438.6 L809.6,438.6 L810.6,438.6 L811.6,438.6 L812.6,438.6 L813.6,438.6 L814.6,438.6 L815.6,438.6 L816.6,438.6 L817.6,438.6 L818.6,438.6 L819.6,438.5 L820.6,438.5 L821.6,438.5 L822.6,438.5 L823.6,438.5 L824.6,438.5 L825.6,438.5 L826.6,438.4 L827.6,438.4 L828.6,438.4 L829.6,438.4 L830.6,438.4 L831.6,438.4 L832.6,438.3 L833.6,438.3 L834.6,438.3 L835.6,438.3 L836.6,438.3 L837.6,438.2 L838.6,438.2 L839.6,438.2 L840.6,438.2 L841.6,438.2 L842.6,438.1 L843.6,438.1 L844.6,438.1 L845.6,438.1 L846.6,438.0 L847.6,438.0 L848.6,438.0 L849.6,437.9 L850.6,437.9 L851.6,437.9 L852.6,437.8 L853.6,437.8 L854.6,437.7 L855.6,437.7 L856.6,437.7 L857.6,437.6 L858.6,437.6 L859.6,437.6 L860.6,437.6 L861.6,437.5 L862.6,437.5 L863.6,437.5 L864.6,437.5 L865.6,437.4 L866.6,437.4 L867.6,437.4 L868.6,437.4 L869.6,437.4 L870.6,437.4 L871.6,437.4 L872.6,437.4 L873.6,437.4 L874.6,437.4 L875.6,437.4 L876.6,437.5 L877.6,437.5 L878.6,437.5 L879.6,437.5 L880.6,437.5 L881.6,437.5 L882.6,437.6 L883.6,437.6 L884.6,437.6 L885.6,437.6 L886.6,437.7 L887.6,437.7 L888.6,437.7 L889.6,437.7 L890.6,437.8 L891.6,437.8 L892.6,437.8 L893.6,437.8 L894.6,437.9 L895.6,437.9 L896.6,437.9 L897.6,437.9 L898.6,438.0 L899.6,438.0 L900.6,438.0 L901.6,438.0 L902.6,438.1 L903.6,438.1 L904.6,438.1 L905.6,438.1 L906.6,438.2 L907.6,438.2 L908.6,438.2 L909.6,438.2 L910.6,438.3 L911.6,438.3 L912.6,438.3 L913.6,438.3 L914.6,438.4 L915.6,438.4 L916.6,438.4 L917.6,438.5 L918.6,438.5 L919.6,438.5 L920.6,438.5 L921.6,438.6 L922.6,438.6 L923.6,438.6 L924.6,438.6 L925.6,438.7 L926.6,438.7 L927.6,438.7 L928.6,438.8 L929.6,438.8 L930.6,438.8 L931.6,438.8 L932.6,438.9 L933.6,438.9 L934.6,438.9 L935.6,439.0 L936.6,439.0 L937.6,439.0 L938.6,439.0 L939.6,439.1 L940.6,439.1 L941.6,439.1 L942.6,439.2 L943.6,439.2 L944.6,439.2 L945.6,439.3 L946.6,439.3 L947.6,439.3 L948.6,439.3 L949.6,439.4 L950.6,439.4 L951.6,439.4 L952.6,439.5 L953.6,439.5 L954.6,439.5 L955.6,439.6 L956.5,439.6 L957.5,439.6 L958.3,439.6 L958.9,439.7" fill="none" stroke="#626262" stroke-width="2.1"/>
<path d="M330.6,439.7 L331.3,439.7 L332.1,439.7 L333.0,439.7 L334.0,439.6 L335.0,439.6 L336.0,439.6 L337.0,439.5 L338.0,439.4 L339.0,439.4 L340.0,439.3 L341.0,439.1 L341.9,439.0 L342.9,438.7 L343.7,438.3 L344.5,437.7 L345.2,437.0 L345.8,436.2 L346.3,435.4 L346.8,434.5 L347.3,433.6 L347.7,432.7 L348.0,431.8 L348.3,430.8 L348.5,429.9 L348.8,428.9 L349.0,427.9 L349.2,426.9 L349.5,426.0 L349.7,425.0 L349.9,424.0 L350.1,423.0 L350.3,422.1 L350.5,421.1 L350.7,420.1 L350.8,419.1 L351.0,418.1 L351.2,417.1 L351.4,416.2 L351.5,415.2 L351.7,414.2 L351.8,413.2 L352.0,412.2 L352.1,411.2 L352.3,410.2 L352.4,409.2 L352.6,408.3 L352.8,407.3 L352.9,406.3 L353.1,405.3 L353.2,404.3 L353.4,403.3 L353.5,402.3 L353.7,401.3 L353.8,400.3 L354.0,399.4 L354.1,398.4 L354.3,397.4 L354.4,396.4 L354.6,395.4 L354.7,394.4 L354.9,393.4 L355.0,392.4 L355.2,391.5 L355.3,390.5 L355.5,389.5 L355.6,388.5 L355.8,387.5 L356.0,386.5 L356.1,385.5 L356.3,384.5 L356.4,383.5 L356.6,382.6 L356.7,381.6 L356.9,380.6 L357.0,379.6 L357.1,378.6 L357.3,377.6 L357.4,376.6 L357.5,375.6 L357.7,374.6 L357.8,373.6 L357.9,372.6 L358.0,371.7 L358.2,370.7 L358.3,369.7 L358.4,368.7 L358.5,367.7 L358.6,366.7 L358.8,365.7 L358.9,364.7 L359.0,363.7 L359.1,362.7 L359.3,361.7 L359.4,360.7 L359.5,359.8 L359.7,358.8 L359.8,357.8 L360.0,356.8 L360.1,355.8 L360.2,354.8 L360.4,353.8 L360.5,352.8 L360.7,351.8 L360.8,350.8 L361.0,349.9 L361.1,348.9 L361.3,347.9 L361.4,346.9 L361.6,345.9 L361.7,344.9 L361.9,343.9 L362.1,342.9 L362.3,342.0 L362.4,341.0 L362.6,340.0 L362.8,339.0 L363.0,338.0 L363.1,337.0 L363.3,336.1 L363.5,335.1 L363.7,334.1 L363.9,333.1 L364.1,332.1 L364.3,331.1 L364.5,330.2 L364.7,329.2 L364.9,328.2 L365.2,327.2 L365.4,326.3 L365.7,325.3 L366.1,324.4 L366.5,323.5 L366.9,322.6 L367.3,321.7 L367.8,320.8 L368.3,319.9 L368.8,319.1 L369.4,318.3 L370.1,317.7 L370.8,317.3 L371.6,317.2 L372.4,317.5 L373.0,318.0 L373.6,318.8 L374.2,319.6 L374.6,320.5 L375.1,321.4 L375.5,322.3 L375.9,323.2 L376.3,324.1 L376.7,325.0 L377.0,326.0 L377.4,326.9 L377.7,327.9 L378.0,328.8 L378.3,329.8 L378.5,330.7 L378.8,331.7 L379.1,332.7 L379.3,333.6 L379.6,334.6 L379.8,335.6 L380.1,336.5 L380.3,337.5 L380.6,338.5 L380.8,339.4 L381.1,340.4 L381.4,341.4 L381.6,342.3 L381.9,343.3 L382.2,344.3 L382.4,345.2 L382.7,346.2 L383.0,347.2 L383.2,348.1 L383.5,349.1 L383.7,350.1 L383.9,351.0 L384.2,352.0 L384.4,353.0 L384.6,354.0 L384.8,354.9 L385.0,355.9 L385.3,356.9 L385.5,357.9 L385.7,358.8 L385.9,359.8 L386.1,360.8 L386.3,361.8 L386.5,362.7 L386.7,363.7 L387.0,364.7 L387.2,365.7 L387.4,366.6 L387.7,367.6 L387.9,368.6 L388.2,369.6 L388.4,370.5 L388.7,371.5 L388.9,372.5 L389.2,373.4 L389.5,374.4 L389.7,375.3 L390.0,376.3 L390.3,377.3 L390.6,378.2 L390.8,379.2 L391.1,380.1 L391.4,381.1 L391.7,382.0 L392.0,383.0 L392.4,384.0 L392.7,384.9 L393.0,385.8 L393.3,386.8 L393.7,387.7 L394.0,388.7 L394.3,389.6 L394.7,390.5 L395.0,391.5 L395.4,392.4 L395.8,393.3 L396.2,394.3 L396.6,395.2 L397.0,396.1 L397.4,397.0 L397.8,397.9 L398.3,398.8 L398.8,399.7 L399.2,400.5 L399.7,401.4 L400.3,402.3 L400.8,403.1 L401.3,404.0 L401.9,404.8 L402.4,405.6 L403.0,406.5 L403.5,407.3 L404.1,408.1 L404.7,408.9 L405.3,409.7 L405.9,410.5 L406.5,411.3 L407.1,412.1 L407.7,412.9 L408.3,413.7 L408.9,414.5 L409.5,415.3 L410.1,416.1 L410.7,416.9 L411.4,417.7 L412.0,418.4 L412.7,419.2 L413.4,419.9 L414.1,420.6 L414.8,421.3 L415.5,422.0 L416.3,422.6 L417.0,423.3 L417.8,423.9 L418.6,424.5 L419.4,425.1 L420.2,425.7 L421.1,426.2 L421.9,426.7 L422.8,427.3 L423.7,427.7 L424.5,428.2 L425.4,428.6 L426.4,429.0 L427.3,429.4 L428.2,429.7 L429.2,430.0 L430.2,430.3 L431.1,430.5 L432.1,430.8 L433.1,431.0 L434.0,431.3 L435.0,431.5 L436.0,431.7 L437.0,431.9 L437.9,432.1 L438.9,432.3 L439.9,432.5 L440.9,432.6 L441.9,432.8 L442.9,433.0 L443.8,433.2 L444.8,433.4 L445.8,433.5 L446.8,433.7 L447.8,433.9 L448.8,434.0 L449.8,434.1 L450.8,434.2 L451.7,434.3 L452.7,434.4 L453.7,434.4 L454.7,434.5 L455.7,434.5 L456.7,434.6 L457.7,434.6 L458.7,434.7 L459.7,434.7 L460.7,434.7 L461.7,434.8 L462.7,434.8 L463.7,434.8 L464.7,434.8 L465.7,434.9 L466.7,434.9 L467.7,434.9 L468.7,434.9 L469.7,434.9 L470.7,434.9 L471.7,434.9 L472.7,434.9 L473.7,434.9 L474.7,434.9 L475.7,434.9 L476.7,434.9 L477.7,434.9 L478.7,434.9 L479.7,434.9 L480.7,434.9 L481.7,434.9 L482.7,434.9 L483.7,434.9 L484.7,434.9 L485.7,434.9 L486.7,434.9 L487.7,434.9 L488.7,434.9 L489.7,434.9 L490.7,434.9 L491.7,434.9 L492.7,434.9 L493.7,434.9 L494.7,434.9 L495.7,434.9 L496.7,434.9 L497.7,434.9 L498.7,434.9 L499.7,434.9 L500.7,434.9 L501.7,434.9 L502.7,434.9 L503.7,434.9 L504.7,434.9 L505.7,434.9 L506.7,434.9 L507.7,434.9 L508.7,434.9 L509.7,434.9 L510.7,434.9 L511.7,434.9 L512.7,434.9 L513.7,434.9 L514.7,435.0 L515.7,435.0 L516.7,435.0 L517.7,435.0 L518.7,435.0 L519.7,435.0 L520.7,435.0 L521.7,435.0 L522.7,435.0 L523.7,435.0 L524.7,435.0 L525.7,435.0 L526.7,435.0 L527.7,435.1 L528.7,435.1 L529.7,435.1 L530.7,435.1 L531.7,435.1 L532.7,435.1 L533.7,435.1 L534.7,435.1 L535.7,435.1 L536.7,435.2 L537.7,435.2 L538.7,435.2 L539.7,435.2 L540.7,435.2 L541.7,435.2 L542.7,435.2 L543.7,435.2 L544.7,435.2 L545.7,435.3 L546.7,435.3 L547.7,435.3 L548.7,435.3 L549.7,435.3 L550.7,435.3 L551.7,435.3 L552.7,435.3 L553.7,435.4 L554.7,435.4 L555.7,435.4 L556.7,435.4 L557.7,435.4 L558.7,435.4 L559.7,435.5 L560.7,435.5 L561.7,435.5 L562.7,435.5 L563.7,435.5 L564.7,435.6 L565.7,435.6 L566.7,435.6 L567.7,435.6 L568.7,435.7 L569.7,435.7 L570.7,435.7 L571.7,435.7 L572.7,435.8 L573.7,435.8 L574.7,435.8 L575.7,435.8 L576.7,435.9 L577.7,435.9 L578.7,435.9 L579.7,435.9 L580.7,436.0 L581.7,436.0 L582.7,436.0 L583.7,436.0 L584.7,436.0 L585.7,436.1 L586.7,436.1 L587.7,436.1 L588.7,436.1 L589.7,436.1 L590.7,436.1 L591.7,436.1 L592.7,436.2 L593.7,436.2 L594.7,436.2 L595.7,436.2 L596.7,436.2 L597.7,436.2 L598.7,436.2 L599.7,436.2 L600.7,436.2 L601.7,436.2 L602.7,436.1 L603.7,436.1 L604.7,436.0 L605.7,436.0 L606.7,435.9 L607.7,435.8 L608.7,435.7 L609.7,435.6 L610.7,435.5 L611.7,435.4 L612.7,435.2 L613.7,435.1 L614.7,435.0 L615.7,434.9 L616.6,434.7 L617.6,434.6 L618.6,434.5 L619.6,434.3 L620.6,434.2 L621.6,434.1 L622.6,433.9 L623.6,433.8 L624.6,433.6 L625.5,433.4 L626.5,433.2 L627.5,433.1 L628.5,432.9 L629.5,432.7 L630.5,432.5 L631.4,432.3 L632.4,432.1 L633.4,431.9 L634.4,431.7 L635.4,431.5 L636.3,431.3 L637.3,431.1 L638.3,430.9 L639.3,430.7 L640.3,430.6 L641.3,430.4 L642.2,430.2 L643.2,430.0 L644.2,429.8 L645.2,429.6 L646.2,429.5 L647.2,429.3 L648.1,429.1 L649.1,428.9 L650.1,428.8 L651.1,428.6 L652.1,428.4 L653.1,428.3 L654.1,428.1 L655.0,427.9 L656.0,427.8 L657.0,427.6 L658.0,427.5 L659.0,427.5 L660.0,427.4 L661.0,427.4 L662.0,427.4 L663.0,427.4 L664.0,427.4 L665.0,427.4 L666.0,427.4 L667.0,427.4 L668.0,427.4 L669.0,427.4 L670.0,427.4 L671.0,427.5 L672.0,427.6 L673.0,427.7 L674.0,427.8 L675.0,427.9 L676.0,428.1 L676.9,428.2 L677.9,428.4 L678.9,428.5 L679.9,428.6 L680.9,428.6 L681.9,428.7 L682.9,428.7 L683.9,428.8 L684.9,428.8 L685.9,428.8 L686.9,428.9 L687.9,428.9 L688.9,428.9 L689.9,428.9 L690.9,428.9 L691.9,428.8 L692.9,428.7 L693.9,428.7 L694.9,428.6 L695.9,428.5 L696.9,428.3 L697.9,428.2 L698.9,428.1 L699.9,428.0 L700.9,427.9 L701.9,427.8 L702.9,427.7 L703.9,427.6 L704.8,427.5 L705.8,427.4 L706.8,427.3 L707.8,427.2 L708.8,427.1 L709.8,427.0 L710.8,426.9 L711.8,426.8 L712.8,426.6 L713.8,426.5 L714.8,426.3 L715.8,426.2 L716.8,426.0 L717.7,425.9 L718.7,425.7 L719.7,425.5 L720.7,425.4 L721.7,425.2 L722.7,425.0 L723.6,424.8 L724.6,424.6 L725.6,424.4 L726.6,424.3 L727.6,424.1 L728.6,423.9 L729.6,423.8 L730.5,423.6 L731.5,423.5 L732.5,423.4 L733.5,423.4 L734.5,423.4 L735.5,423.6 L736.5,423.8 L737.4,424.1 L738.4,424.4 L739.3,424.8 L740.2,425.2 L741.0,425.7 L741.9,426.2 L742.7,426.8 L743.5,427.4 L744.3,428.0 L745.1,428.6 L745.9,429.2 L746.7,429.8 L747.5,430.4 L748.3,431.0 L749.1,431.5 L750.0,432.1 L750.8,432.6 L751.7,433.1 L752.6,433.5 L753.5,434.0 L754.4,434.4 L755.3,434.8 L756.2,435.1 L757.2,435.5 L758.1,435.8 L759.1,436.0 L760.1,436.3 L761.0,436.5 L762.0,436.8 L763.0,437.0 L764.0,437.2 L764.9,437.4 L765.9,437.5 L766.9,437.7 L767.9,437.8 L768.9,438.0 L769.9,438.1 L770.9,438.2 L771.9,438.2 L772.9,438.3 L773.9,438.4 L774.9,438.4 L775.9,438.5 L776.9,438.5 L777.9,438.6 L778.9,438.6 L779.9,438.7 L780.9,438.7 L781.9,438.7 L782.9,438.8 L783.9,438.8 L784.9,438.9 L785.9,438.9 L786.9,438.9 L787.9,438.9 L788.9,439.0 L789.9,439.0 L790.9,439.0 L791.9,439.0 L792.9,439.1 L793.9,439.1 L794.9,439.1 L795.9,439.2 L796.9,439.2 L797.9,439.2 L798.9,439.2 L799.9,439.3 L800.9,439.3 L801.9,439.3 L802.9,439.3 L803.9,439.4 L804.9,439.4 L805.9,439.4 L806.9,439.4 L807.9,439.4 L808.9,439.5 L809.9,439.5 L810.9,439.5 L811.9,439.5 L812.9,439.5 L813.9,439.6 L814.9,439.6 L815.9,439.6 L816.9,439.6 L817.9,439.6 L818.9,439.6 L819.9,439.6 L820.9,439.6 L821.9,439.7 L822.9,439.7 L823.9,439.7 L824.9,439.7 L825.9,439.7 L826.8,439.7 L827.8,439.7 L828.6,439.7 L829.2,439.7" fill="none" stroke="#000" stroke-width="2.5" stroke-linecap="round" stroke-dasharray="0.1 4.4"/>
<path d="M330.6,439.7 L331.3,439.7 L332.1,439.7 L333.0,439.7 L334.0,439.7 L335.0,439.7 L336.0,439.6 L337.0,439.6 L338.0,439.6 L339.0,439.6 L340.0,439.5 L341.0,439.5 L342.0,439.4 L342.9,439.2 L343.9,439.0 L344.7,438.6 L345.4,438.0 L346.0,437.2 L346.6,436.4 L347.1,435.6 L347.6,434.7 L348.0,433.8 L348.4,432.9 L348.8,432.0 L349.2,431.0 L349.5,430.1 L349.8,429.2 L350.2,428.2 L350.5,427.3 L350.8,426.3 L351.1,425.4 L351.4,424.4 L351.7,423.4 L352.0,422.5 L352.2,421.5 L352.5,420.6 L352.7,419.6 L353.0,418.6 L353.2,417.6 L353.4,416.7 L353.6,415.7 L353.8,414.7 L353.9,413.7 L354.1,412.7 L354.3,411.7 L354.5,410.8 L354.7,409.8 L354.9,408.8 L355.2,407.8 L355.4,406.9 L355.7,405.9 L355.9,404.9 L356.1,404.0 L356.4,403.0 L356.7,402.0 L356.9,401.1 L357.1,400.1 L357.4,399.1 L357.6,398.1 L357.9,397.2 L358.1,396.2 L358.4,395.2 L358.6,394.3 L358.8,393.3 L359.1,392.3 L359.3,391.3 L359.5,390.4 L359.7,389.4 L359.9,388.4 L360.1,387.4 L360.3,386.5 L360.5,385.5 L360.7,384.5 L360.9,383.5 L361.1,382.5 L361.2,381.5 L361.4,380.6 L361.6,379.6 L361.8,378.6 L362.0,377.6 L362.1,376.6 L362.3,375.6 L362.5,374.7 L362.7,373.7 L363.0,372.7 L363.2,371.7 L363.5,370.8 L363.7,369.8 L364.0,368.9 L364.4,367.9 L364.7,367.0 L365.1,366.1 L365.5,365.2 L366.0,364.3 L366.5,363.4 L367.1,362.6 L367.8,361.9 L368.5,361.3 L369.3,360.9 L370.1,360.8 L371.0,361.0 L371.8,361.4 L372.5,362.0 L373.2,362.7 L373.8,363.5 L374.4,364.3 L374.8,365.2 L375.2,366.1 L375.6,367.0 L376.0,368.0 L376.3,368.9 L376.6,369.8 L377.0,370.8 L377.4,371.7 L377.8,372.6 L378.2,373.5 L378.7,374.4 L379.2,375.2 L379.7,376.1 L380.2,377.0 L380.7,377.8 L381.2,378.7 L381.6,379.6 L382.0,380.5 L382.4,381.5 L382.8,382.4 L383.1,383.3 L383.5,384.3 L383.8,385.2 L384.2,386.1 L384.5,387.1 L384.8,388.0 L385.2,388.9 L385.6,389.9 L385.9,390.8 L386.3,391.7 L386.8,392.6 L387.2,393.5 L387.7,394.4 L388.1,395.3 L388.6,396.2 L389.1,397.0 L389.6,397.9 L390.0,398.8 L390.4,399.7 L390.7,400.7 L391.0,401.6 L391.4,402.6 L391.7,403.5 L392.0,404.5 L392.3,405.4 L392.7,406.3 L393.1,407.2 L393.6,408.1 L394.0,409.0 L394.5,409.9 L395.0,410.8 L395.5,411.6 L396.1,412.4 L396.7,413.3 L397.2,414.1 L397.9,414.9 L398.5,415.6 L399.1,416.4 L399.8,417.1 L400.5,417.9 L401.2,418.6 L401.9,419.3 L402.6,420.0 L403.3,420.7 L404.1,421.4 L404.8,422.1 L405.5,422.7 L406.3,423.4 L407.1,424.0 L407.9,424.6 L408.6,425.2 L409.4,425.8 L410.3,426.4 L411.1,427.0 L411.9,427.5 L412.8,428.1 L413.6,428.6 L414.5,429.1 L415.4,429.5 L416.3,430.0 L417.2,430.4 L418.1,430.8 L419.0,431.2 L419.9,431.6 L420.9,431.9 L421.8,432.3 L422.8,432.6 L423.7,432.9 L424.7,433.1 L425.6,433.4 L426.6,433.6 L427.6,433.8 L428.6,434.1 L429.5,434.3 L430.5,434.4 L431.5,434.6 L432.5,434.8 L433.5,434.9 L434.5,435.1 L435.5,435.2 L436.5,435.4 L437.4,435.5 L438.4,435.7 L439.4,435.8 L440.4,435.9 L441.4,436.0 L442.4,436.1 L443.4,436.2 L444.4,436.2 L445.4,436.2 L446.4,436.2 L447.4,436.2 L448.4,436.2 L449.4,436.2 L450.4,436.1 L451.4,436.1 L452.4,436.1 L453.4,436.1 L454.4,436.1 L455.4,436.1 L456.4,436.0 L457.4,436.0 L458.4,436.0 L459.4,436.0 L460.4,436.0 L461.4,436.0 L462.4,436.0 L463.4,436.0 L464.4,436.0 L465.4,435.9 L466.4,435.9 L467.4,435.9 L468.4,435.9 L469.4,435.9 L470.4,435.9 L471.4,435.9 L472.4,435.9 L473.4,435.9 L474.4,435.9 L475.4,435.8 L476.4,435.8 L477.4,435.8 L478.4,435.8 L479.4,435.8 L480.4,435.8 L481.4,435.8 L482.4,435.8 L483.4,435.8 L484.4,435.8 L485.4,435.8 L486.4,435.8 L487.4,435.7 L488.4,435.7 L489.4,435.7 L490.4,435.7 L491.4,435.7 L492.4,435.7 L493.4,435.7 L494.4,435.7 L495.4,435.7 L496.4,435.7 L497.4,435.7 L498.4,435.7 L499.4,435.7 L500.4,435.7 L501.4,435.7 L502.4,435.7 L503.4,435.7 L504.4,435.7 L505.4,435.7 L506.4,435.7 L507.4,435.7 L508.4,435.7 L509.4,435.7 L510.4,435.7 L511.4,435.7 L512.4,435.7 L513.4,435.7 L514.4,435.7 L515.4,435.7 L516.4,435.7 L517.4,435.7 L518.4,435.7 L519.4,435.7 L520.4,435.7 L521.4,435.7 L522.4,435.8 L523.4,435.8 L524.4,435.8 L525.4,435.8 L526.4,435.8 L527.4,435.8 L528.4,435.8 L529.4,435.8 L530.4,435.8 L531.4,435.8 L532.4,435.8 L533.4,435.8 L534.4,435.8 L535.4,435.8 L536.4,435.8 L537.4,435.8 L538.4,435.8 L539.4,435.8 L540.4,435.8 L541.4,435.8 L542.4,435.9 L543.4,435.9 L544.4,435.9 L545.4,435.9 L546.4,435.9 L547.4,435.9 L548.4,435.9 L549.4,435.9 L550.4,435.9 L551.4,435.9 L552.4,435.9 L553.4,435.9 L554.4,435.9 L555.4,436.0 L556.4,436.0 L557.4,436.0 L558.4,436.0 L559.4,436.0 L560.4,436.0 L561.4,436.0 L562.4,436.1 L563.4,436.1 L564.4,436.1 L565.4,436.1 L566.4,436.1 L567.4,436.1 L568.4,436.2 L569.4,436.2 L570.4,436.2 L571.4,436.2 L572.4,436.2 L573.4,436.3 L574.4,436.3 L575.4,436.3 L576.4,436.3 L577.4,436.3 L578.4,436.4 L579.4,436.4 L580.4,436.4 L581.4,436.4 L582.4,436.4 L583.4,436.4 L584.4,436.5 L585.4,436.5 L586.4,436.5 L587.4,436.5 L588.4,436.5 L589.4,436.5 L590.4,436.5 L591.4,436.6 L592.4,436.6 L593.4,436.6 L594.4,436.6 L595.4,436.6 L596.4,436.6 L597.4,436.6 L598.4,436.6 L599.4,436.6 L600.4,436.6 L601.4,436.6 L602.4,436.5 L603.4,436.5 L604.4,436.5 L605.4,436.4 L606.4,436.4 L607.4,436.3 L608.4,436.2 L609.4,436.1 L610.4,436.0 L611.4,435.9 L612.4,435.8 L613.4,435.7 L614.4,435.6 L615.3,435.5 L616.3,435.4 L617.3,435.3 L618.3,435.2 L619.3,435.1 L620.3,435.0 L621.3,434.8 L622.3,434.7 L623.3,434.6 L624.3,434.4 L625.3,434.3 L626.3,434.1 L627.2,434.0 L628.2,433.8 L629.2,433.6 L630.2,433.5 L631.2,433.3 L632.2,433.1 L633.1,432.9 L634.1,432.7 L635.1,432.5 L636.1,432.3 L637.1,432.1 L638.0,431.9 L639.0,431.7 L640.0,431.5 L641.0,431.3 L642.0,431.1 L642.9,430.9 L643.9,430.7 L644.9,430.5 L645.9,430.3 L646.9,430.1 L647.8,429.9 L648.8,429.7 L649.8,429.5 L650.8,429.3 L651.8,429.2 L652.8,429.0 L653.7,428.8 L654.7,428.6 L655.7,428.4 L656.7,428.3 L657.7,428.2 L658.7,428.1 L659.7,428.0 L660.7,428.0 L661.7,428.0 L662.7,428.0 L663.7,428.0 L664.7,428.0 L665.7,428.0 L666.7,428.0 L667.7,428.0 L668.7,428.0 L669.7,428.0 L670.7,428.1 L671.7,428.1 L672.7,428.2 L673.7,428.3 L674.7,428.5 L675.6,428.6 L676.6,428.8 L677.6,428.9 L678.6,429.0 L679.6,429.0 L680.6,429.1 L681.6,429.1 L682.6,429.1 L683.6,429.2 L684.6,429.2 L685.6,429.2 L686.6,429.2 L687.6,429.2 L688.6,429.2 L689.6,429.2 L690.6,429.2 L691.6,429.1 L692.6,429.1 L693.6,429.0 L694.6,428.9 L695.6,428.8 L696.6,428.7 L697.6,428.6 L698.6,428.5 L699.6,428.4 L700.6,428.3 L701.6,428.2 L702.6,428.1 L703.5,428.0 L704.5,427.9 L705.5,427.8 L706.5,427.7 L707.5,427.6 L708.5,427.5 L709.5,427.3 L710.5,427.2 L711.5,427.1 L712.5,427.0 L713.5,426.8 L714.5,426.7 L715.5,426.5 L716.4,426.4 L717.4,426.2 L718.4,426.1 L719.4,425.9 L720.4,425.7 L721.4,425.5 L722.4,425.4 L723.3,425.2 L724.3,425.0 L725.3,424.8 L726.3,424.6 L727.3,424.4 L728.3,424.3 L729.2,424.1 L730.2,424.0 L731.2,423.9 L732.2,423.8 L733.2,423.7 L734.2,423.7 L735.2,423.8 L736.2,424.0 L737.1,424.3 L738.1,424.6 L739.0,424.9 L739.9,425.3 L740.8,425.8 L741.6,426.3 L742.5,426.9 L743.3,427.5 L744.1,428.1 L744.9,428.7 L745.7,429.3 L746.5,429.9 L747.3,430.4 L748.1,431.0 L748.9,431.6 L749.8,432.1 L750.6,432.6 L751.5,433.1 L752.4,433.6 L753.3,434.0 L754.2,434.4 L755.1,434.8 L756.1,435.2 L757.0,435.5 L757.9,435.8 L758.9,436.1 L759.9,436.3 L760.8,436.6 L761.8,436.8 L762.8,437.0 L763.8,437.2 L764.7,437.4 L765.7,437.6 L766.7,437.8 L767.7,437.9 L768.7,438.1 L769.7,438.2 L770.7,438.2 L771.7,438.3 L772.7,438.4 L773.7,438.4 L774.7,438.5 L775.7,438.5 L776.7,438.6 L777.7,438.6 L778.7,438.7 L779.7,438.7 L780.7,438.7 L781.7,438.8 L782.7,438.8 L783.7,438.8 L784.7,438.9 L785.7,438.9 L786.7,438.9 L787.7,438.9 L788.7,439.0 L789.7,439.0 L790.7,439.0 L791.7,439.0 L792.7,439.1 L793.7,439.1 L794.7,439.1 L795.7,439.1 L796.7,439.2 L797.7,439.2 L798.7,439.2 L799.7,439.2 L800.7,439.3 L801.7,439.3 L802.7,439.3 L803.7,439.3 L804.7,439.4 L805.7,439.4 L806.7,439.4 L807.7,439.4 L808.7,439.4 L809.7,439.5 L810.7,439.5 L811.7,439.5 L812.7,439.5 L813.7,439.5 L814.7,439.5 L815.7,439.6 L816.7,439.6 L817.7,439.6 L818.7,439.6 L819.7,439.6 L820.7,439.6 L821.7,439.6 L822.7,439.7 L823.7,439.7 L824.7,439.7 L825.7,439.7 L826.6,439.7 L827.6,439.7 L828.4,439.7 L829.0,439.7" fill="none" stroke="#000" stroke-width="2.4" stroke-dasharray="7.5 6.8"/>
<path d="M88.6,439.7 L89.3,439.7 L90.1,439.7 L91.0,439.7 L92.0,439.7 L93.0,439.7 L94.0,439.7 L95.0,439.7 L96.0,439.7 L97.0,439.7 L98.0,439.7 L99.0,439.7 L100.0,439.7 L101.0,439.7 L102.0,439.7 L103.0,439.7 L104.0,439.7 L105.0,439.7 L106.0,439.7 L107.0,439.7 L108.0,439.7 L109.0,439.7 L110.0,439.7 L111.0,439.7 L112.0,439.7 L113.0,439.7 L114.0,439.7 L115.0,439.7 L116.0,439.7 L117.0,439.7 L118.0,439.7 L119.0,439.7 L120.0,439.7 L121.0,439.7 L122.0,439.7 L123.0,439.7 L124.0,439.7 L125.0,439.7 L126.0,439.7 L127.0,439.7 L128.0,439.7 L129.0,439.7 L130.0,439.7 L131.0,439.7 L132.0,439.7 L133.0,439.7 L134.0,439.7 L135.0,439.7 L136.0,439.7 L137.0,439.7 L138.0,439.7 L139.0,439.7 L140.0,439.7 L141.0,439.7 L142.0,439.7 L143.0,439.7 L144.0,439.7 L145.0,439.7 L146.0,439.7 L147.0,439.7 L148.0,439.7 L149.0,439.7 L150.0,439.7 L151.0,439.7 L152.0,439.7 L153.0,439.7 L154.0,439.7 L155.0,439.7 L156.0,439.7 L157.0,439.7 L158.0,439.7 L159.0,439.7 L160.0,439.7 L161.0,439.7 L162.0,439.7 L163.0,439.7 L164.0,439.7 L165.0,439.7 L166.0,439.7 L167.0,439.7 L168.0,439.7 L169.0,439.7 L170.0,439.7 L171.0,439.7 L172.0,439.7 L173.0,439.7 L174.0,439.7 L175.0,439.7 L176.0,439.7 L177.0,439.7 L178.0,439.7 L179.0,439.7 L180.0,439.7 L181.0,439.7 L182.0,439.7 L183.0,439.7 L184.0,439.7 L185.0,439.7 L186.0,439.7 L187.0,439.7 L188.0,439.7 L189.0,439.7 L190.0,439.7 L191.0,439.7 L192.0,439.7 L193.0,439.7 L194.0,439.7 L195.0,439.7 L196.0,439.7 L197.0,439.7 L198.0,439.7 L199.0,439.7 L200.0,439.7 L201.0,439.7 L202.0,439.7 L203.0,439.7 L204.0,439.7 L205.0,439.7 L206.0,439.7 L207.0,439.7 L208.0,439.7 L209.0,439.7 L210.0,439.7 L211.0,439.7 L212.0,439.7 L213.0,439.7 L214.0,439.7 L215.0,439.7 L216.0,439.7 L217.0,439.7 L218.0,439.7 L219.0,439.7 L220.0,439.7 L221.0,439.7 L222.0,439.7 L223.0,439.7 L224.0,439.7 L225.0,439.7 L226.0,439.7 L227.0,439.7 L228.0,439.7 L229.0,439.7 L230.0,439.7 L231.0,439.7 L232.0,439.7 L233.0,439.7 L234.0,439.7 L235.0,439.7 L236.0,439.7 L237.0,439.7 L238.0,439.7 L239.0,439.7 L240.0,439.7 L241.0,439.7 L242.0,439.7 L243.0,439.7 L244.0,439.7 L245.0,439.7 L246.0,439.7 L247.0,439.7 L248.0,439.7 L249.0,439.7 L250.0,439.7 L251.0,439.7 L252.0,439.7 L253.0,439.7 L254.0,439.7 L255.0,439.7 L256.0,439.7 L257.0,439.7 L258.0,439.7 L259.0,439.7 L260.0,439.7 L261.0,439.7 L262.0,439.7 L263.0,439.7 L264.0,439.7 L265.0,439.7 L266.0,439.7 L267.0,439.7 L268.0,439.7 L269.0,439.7 L270.0,439.7 L271.0,439.7 L272.0,439.7 L273.0,439.7 L274.0,439.7 L275.0,439.7 L276.0,439.7 L277.0,439.7 L278.0,439.7 L279.0,439.7 L280.0,439.7 L281.0,439.7 L282.0,439.7 L283.0,439.7 L284.0,439.7 L285.0,439.7 L286.0,439.7 L287.0,439.7 L288.0,439.7 L289.0,439.7 L290.0,439.7 L291.0,439.7 L292.0,439.7 L293.0,439.7 L294.0,439.7 L295.0,439.7 L296.0,439.7 L297.0,439.7 L298.0,439.7 L299.0,439.7 L300.0,439.7 L301.0,439.7 L302.0,439.7 L303.0,439.7 L304.0,439.7 L305.0,439.7 L306.0,439.7 L307.0,439.7 L308.0,439.7 L309.0,439.7 L310.0,439.7 L311.0,439.7 L312.0,439.7 L313.0,439.7 L314.0,439.7 L315.0,439.7 L316.0,439.7 L317.0,439.7 L318.0,439.7 L319.0,439.7 L320.0,439.7 L321.0,439.7 L322.0,439.7 L323.0,439.7 L324.0,439.7 L325.0,439.7 L326.0,439.7 L327.0,439.7 L328.0,439.7 L329.0,439.7 L330.0,439.7 L331.0,439.7 L332.0,439.7 L333.0,439.7 L334.0,439.7 L335.0,439.7 L336.0,439.7 L337.0,439.7 L338.0,439.7 L339.0,439.7 L340.0,439.7 L341.0,439.7 L342.0,439.6 L343.0,439.5 L344.0,439.4 L344.9,439.2 L345.9,438.9 L346.7,438.5 L347.4,437.9 L348.1,437.2 L348.7,436.4 L349.3,435.6 L349.8,434.8 L350.4,433.9 L351.0,433.2 L351.6,432.4 L352.3,431.6 L352.9,430.8 L353.6,430.1 L354.2,429.3 L354.9,428.6 L355.7,427.9 L356.4,427.3 L357.2,426.6 L358.0,426.1 L358.8,425.6 L359.7,425.1 L360.7,424.8 L361.6,424.5 L362.6,424.4 L363.6,424.4 L364.5,424.5 L365.5,424.6 L366.5,424.9 L367.4,425.1 L368.4,425.4 L369.3,425.7 L370.3,426.1 L371.2,426.4 L372.1,426.8 L373.1,427.2 L374.0,427.7 L374.9,428.1 L375.8,428.5 L376.7,429.0 L377.6,429.4 L378.5,429.8 L379.4,430.2 L380.3,430.6 L381.2,430.9 L382.2,431.3 L383.1,431.7 L384.0,432.0 L385.0,432.4 L385.9,432.7 L386.9,433.1 L387.8,433.4 L388.8,433.7 L389.7,434.0 L390.7,434.3 L391.6,434.6 L392.6,434.9 L393.5,435.2 L394.5,435.4 L395.5,435.7 L396.4,436.0 L397.4,436.2 L398.4,436.4 L399.3,436.7 L400.3,436.9 L401.3,437.1 L402.3,437.3 L403.3,437.4 L404.3,437.6 L405.2,437.8 L406.2,438.0 L407.2,438.1 L408.2,438.3 L409.2,438.4 L410.2,438.5 L411.2,438.6 L412.2,438.7 L413.2,438.8 L414.2,438.8 L415.2,438.8 L416.2,438.8 L417.2,438.8 L418.2,438.8 L419.2,438.8 L420.2,438.8 L421.2,438.7 L422.2,438.7 L423.2,438.7 L424.2,438.7 L425.2,438.7 L426.2,438.7 L427.2,438.7 L428.2,438.6 L429.2,438.6 L430.2,438.6 L431.2,438.6 L432.2,438.5 L433.2,438.5 L434.2,438.5 L435.2,438.4 L436.2,438.4 L437.2,438.4 L438.2,438.3 L439.2,438.3 L440.2,438.2 L441.2,438.2 L442.2,438.2 L443.2,438.1 L444.2,438.1 L445.2,438.0 L446.2,438.0 L447.2,438.0 L448.2,437.9 L449.2,437.9 L450.2,437.9 L451.2,437.9 L452.2,437.9 L453.2,437.9 L454.2,437.8 L455.2,437.8 L456.2,437.8 L457.2,437.8 L458.2,437.8 L459.2,437.8 L460.2,437.7 L461.2,437.7 L462.2,437.7 L463.2,437.7 L464.2,437.7 L465.2,437.7 L466.2,437.7 L467.2,437.7 L468.2,437.7 L469.2,437.6 L470.2,437.6 L471.2,437.6 L472.2,437.6 L473.2,437.6 L474.2,437.6 L475.2,437.6 L476.2,437.6 L477.2,437.6 L478.2,437.6 L479.2,437.6 L480.2,437.6 L481.2,437.6 L482.2,437.6 L483.2,437.6 L484.2,437.6 L485.2,437.6 L486.2,437.6 L487.2,437.6 L488.2,437.6 L489.2,437.6 L490.2,437.6 L491.2,437.6 L492.2,437.6 L493.2,437.6 L494.2,437.6 L495.2,437.6 L496.2,437.6 L497.2,437.6 L498.2,437.6 L499.2,437.6 L500.2,437.6 L501.2,437.6 L502.2,437.6 L503.2,437.6 L504.2,437.6 L505.2,437.6 L506.2,437.6 L507.2,437.6 L508.2,437.6 L509.2,437.6 L510.2,437.6 L511.2,437.6 L512.2,437.6 L513.2,437.6 L514.2,437.6 L515.2,437.6 L516.2,437.6 L517.2,437.6 L518.2,437.6 L519.2,437.6 L520.2,437.6 L521.2,437.6 L522.2,437.6 L523.2,437.6 L524.2,437.6 L525.2,437.6 L526.2,437.6 L527.2,437.6 L528.2,437.6 L529.2,437.6 L530.2,437.6 L531.2,437.6 L532.2,437.7 L533.2,437.7 L534.1,437.7 L535.1,437.7 L536.1,437.7 L537.1,437.7 L538.1,437.7 L539.1,437.7 L540.1,437.7 L541.1,437.7 L542.1,437.8 L543.1,437.8 L544.1,437.8 L545.1,437.8 L546.1,437.8 L547.1,437.8 L548.1,437.8 L549.1,437.8 L550.1,437.8 L551.1,437.8 L552.1,437.9 L553.1,437.9 L554.1,437.9 L555.1,437.9 L556.1,437.9 L557.1,437.9 L558.1,437.9 L559.1,437.9 L560.1,437.9 L561.1,437.9 L562.1,437.9 L563.1,437.9 L564.1,437.9 L565.1,437.9 L566.1,437.9 L567.1,437.9 L568.1,437.9 L569.1,437.9 L570.1,437.9 L571.1,437.9 L572.1,437.9 L573.1,437.9 L574.1,438.0 L575.1,438.0 L576.1,438.0 L577.1,438.0 L578.1,438.0 L579.1,438.0 L580.1,438.0 L581.1,438.0 L582.1,438.0 L583.1,438.0 L584.1,438.0 L585.1,438.0 L586.1,438.0 L587.1,438.0 L588.1,438.0 L589.1,438.0 L590.1,438.0 L591.1,438.0 L592.1,438.0 L593.1,438.0 L594.1,438.0 L595.1,438.0 L596.1,438.0 L597.1,438.0 L598.1,438.0 L599.1,438.0 L600.1,438.0 L601.1,438.0 L602.1,437.9 L603.1,437.9 L604.1,437.8 L605.1,437.8 L606.1,437.7 L607.1,437.6 L608.1,437.5 L609.1,437.4 L610.1,437.3 L611.1,437.2 L612.1,437.0 L613.1,436.9 L614.1,436.8 L615.1,436.6 L616.1,436.5 L617.1,436.4 L618.0,436.3 L619.0,436.1 L620.0,436.0 L621.0,435.9 L622.0,435.7 L623.0,435.6 L624.0,435.5 L625.0,435.3 L626.0,435.2 L627.0,435.0 L627.9,434.8 L628.9,434.7 L629.9,434.5 L630.9,434.3 L631.9,434.2 L632.9,434.0 L633.9,433.8 L634.8,433.6 L635.8,433.4 L636.8,433.2 L637.8,433.0 L638.7,432.8 L639.7,432.6 L640.7,432.3 L641.7,432.1 L642.7,431.9 L643.6,431.7 L644.6,431.5 L645.6,431.2 L646.6,431.0 L647.5,430.8 L648.5,430.6 L649.5,430.4 L650.5,430.2 L651.5,430.0 L652.4,429.8 L653.4,429.6 L654.4,429.4 L655.4,429.2 L656.4,429.1 L657.4,428.9 L658.3,428.8 L659.3,428.8 L660.3,428.7 L661.3,428.7 L662.3,428.7 L663.3,428.7 L664.3,428.7 L665.3,428.7 L666.3,428.7 L667.3,428.8 L668.3,428.8 L669.3,428.8 L670.3,428.8 L671.3,428.9 L672.3,428.9 L673.3,429.0 L674.3,429.1 L675.3,429.2 L676.3,429.3 L677.3,429.4 L678.3,429.4 L679.3,429.5 L680.3,429.5 L681.3,429.5 L682.3,429.5 L683.3,429.5 L684.3,429.5 L685.3,429.5 L686.3,429.5 L687.3,429.5 L688.3,429.5 L689.3,429.5 L690.3,429.5 L691.3,429.4 L692.3,429.4 L693.3,429.3 L694.3,429.2 L695.3,429.1 L696.3,429.0 L697.3,428.8 L698.3,428.7 L699.3,428.6 L700.3,428.5 L701.2,428.4 L702.2,428.3 L703.2,428.2 L704.2,428.1 L705.2,428.0 L706.2,427.9 L707.2,427.8 L708.2,427.7 L709.2,427.6 L710.2,427.5 L711.2,427.3 L712.2,427.2 L713.2,427.1 L714.2,426.9 L715.2,426.8 L716.1,426.6 L717.1,426.5 L718.1,426.3 L719.1,426.1 L720.1,426.0 L721.1,425.8 L722.1,425.6 L723.0,425.4 L724.0,425.2 L725.0,425.1 L726.0,424.9 L727.0,424.7 L728.0,424.5 L728.9,424.4 L729.9,424.2 L730.9,424.1 L731.9,424.0 L732.9,423.9 L733.9,423.9 L734.9,424.0 L735.9,424.1 L736.8,424.4 L737.8,424.7 L738.7,425.0 L739.6,425.4 L740.5,425.9 L741.4,426.4 L742.2,426.9 L743.0,427.5 L743.8,428.1 L744.6,428.7 L745.4,429.3 L746.2,429.9 L747.0,430.5 L747.8,431.0 L748.7,431.6 L749.5,432.2 L750.4,432.7 L751.2,433.2 L752.1,433.6 L753.0,434.1 L753.9,434.5 L754.8,434.9 L755.8,435.2 L756.7,435.6 L757.7,435.9 L758.6,436.1 L759.6,436.4 L760.6,436.6 L761.5,436.9 L762.5,437.1 L763.5,437.3 L764.5,437.5 L765.4,437.7 L766.4,437.9 L767.4,438.1 L768.4,438.2 L769.4,438.3 L770.4,438.4 L771.4,438.5 L772.4,438.6 L773.4,438.6 L774.4,438.7 L775.4,438.8 L776.4,438.8 L777.4,438.9 L778.4,438.9 L779.4,439.0 L780.4,439.0 L781.4,439.0 L782.4,439.1 L783.4,439.1 L784.4,439.2 L785.4,439.2 L786.4,439.2 L787.4,439.2 L788.4,439.3 L789.4,439.3 L790.4,439.3 L791.4,439.3 L792.4,439.3 L793.4,439.4 L794.4,439.4 L795.4,439.4 L796.4,439.4 L797.4,439.4 L798.4,439.5 L799.4,439.5 L800.4,439.5 L801.4,439.5 L802.4,439.5 L803.4,439.6 L804.4,439.6 L805.4,439.6 L806.4,439.6 L807.4,439.6 L808.4,439.6 L809.4,439.6 L810.4,439.6 L811.4,439.7 L812.4,439.7 L813.4,439.7 L814.4,439.7 L815.4,439.7 L816.4,439.7 L817.3,439.7 L818.2,439.7 L818.9,439.7" fill="none" stroke="#000" stroke-width="2.2"/>
<path d="M87.6,44.2 V441 M86.6,439.9 H993.7" stroke="#000" stroke-width="2.2" fill="none"/>
<path d="M83.3,439.9 H87.6 M83.3,400.4 H87.6 M83.3,360.9 H87.6 M83.3,321.4 H87.6 M83.3,281.9 H87.6 M83.3,242.4 H87.6 M83.3,203.0 H87.6 M83.3,163.5 H87.6 M83.3,124.0 H87.6 M83.3,84.5 H87.6 M83.3,45.0 H87.6 M88.0,439.9 V444.7 M238.8,439.9 V444.7 M389.6,439.9 V444.7 M540.4,439.9 V444.7 M691.1,439.9 V444.7 M841.9,439.9 V444.7 M992.7,439.9 V444.7" stroke="#000" stroke-width="1.8" fill="none"/>
<text x="73" y="445.7" font-size="16.4" text-anchor="end" fill="#000">0</text>
<text x="73" y="406.2" font-size="16.4" text-anchor="end" fill="#000">200</text>
<text x="73" y="366.7" font-size="16.4" text-anchor="end" fill="#000">400</text>
<text x="73" y="327.2" font-size="16.4" text-anchor="end" fill="#000">600</text>
<text x="73" y="287.7" font-size="16.4" text-anchor="end" fill="#000">800</text>
<text x="73" y="248.2" font-size="16.4" text-anchor="end" fill="#000">1000</text>
<text x="73" y="208.8" font-size="16.4" text-anchor="end" fill="#000">1200</text>
<text x="73" y="169.3" font-size="16.4" text-anchor="end" fill="#000">1400</text>
<text x="73" y="129.8" font-size="16.4" text-anchor="end" fill="#000">1600</text>
<text x="73" y="90.3" font-size="16.4" text-anchor="end" fill="#000">1800</text>
<text x="73" y="50.8" font-size="16.4" text-anchor="end" fill="#000">2000</text>
<text x="88.0" y="468.4" font-size="16.5" text-anchor="middle" fill="#000">0</text>
<text x="238.8" y="468.4" font-size="16.5" text-anchor="middle" fill="#000">0.5</text>
<text x="389.6" y="468.4" font-size="16.5" text-anchor="middle" fill="#000">1</text>
<text x="540.4" y="468.4" font-size="16.5" text-anchor="middle" fill="#000">1.5</text>
<text x="691.1" y="468.4" font-size="16.5" text-anchor="middle" fill="#000">2</text>
<text x="841.9" y="468.4" font-size="16.5" text-anchor="middle" fill="#000">2.5</text>
<text x="992.7" y="468.4" font-size="16.5" text-anchor="middle" fill="#000">3</text>
<text x="539" y="499" font-size="16.5" text-anchor="middle" textLength="153" lengthAdjust="spacingAndGlyphs" fill="#000">Eluent volume (mL)</text>
<text transform="translate(16.3,241.7) rotate(-90)" font-size="16.5" text-anchor="middle" textLength="230.5" lengthAdjust="spacingAndGlyphs" fill="#000">Absorbance at 214 nm (mAU)</text>
<path d="M139,9.2 h29.2" stroke="#000" stroke-width="2.2" fill="none"/>
<text x="182.2" y="13.5" font-size="14.8" fill="#000">Pepsin -0 min</text>
<path d="M139,29.6 h29.2" stroke="#666" stroke-width="1.6" fill="none"/>
<text x="182.2" y="34.5" font-size="14.8" fill="#000">Pepsin + Pancreatin - 0 min</text>
<path d="M432.2,9.2 h29.2" stroke="#000" stroke-width="2.3" stroke-dasharray="7 8.4" fill="none"/>
<text x="467.0" y="13.5" font-size="14.8" fill="#000">Pepsin -30 min</text>
<path d="M432.2,29.6 h29.2" stroke="#555" stroke-width="1.9" stroke-dasharray="7 8.4" fill="none"/>
<text x="467.0" y="34.5" font-size="14.8" fill="#000">Pepsin + Pancreatin - 30 min</text>
<path d="M723.3,8.9 h29.2" stroke="#000" stroke-width="2.4" stroke-dasharray="2.2 2.2" fill="none"/>
<text x="763.2" y="13.5" font-size="14.8" fill="#000">Pepsin -90 min</text>
<path d="M723.4,30.4 h29.2" stroke="#6a6a6a" stroke-width="2.0" stroke-dasharray="2 2.45" fill="none"/>
<text x="763.2" y="34.5" font-size="14.8" fill="#000">Pepsin + Pancreatin - 210 min</text>
</svg>
</body></html>
